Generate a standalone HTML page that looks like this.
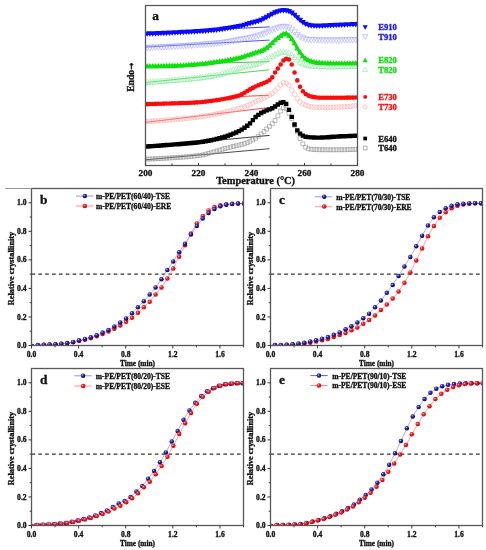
<!DOCTYPE html>
<html><head><meta charset="utf-8"><style>
html,body{margin:0;padding:0;background:#fff;width:486px;height:550px;overflow:hidden}
svg text{font-family:'Liberation Serif', 'Times New Roman', serif;font-weight:bold;stroke-width:0.32px;paint-order:stroke}
</style></head><body>
<svg width="486" height="550" viewBox="0 0 486 550" fill="#111" style="position:absolute;left:0;top:0">
<defs>
<clipPath id="clipA"><rect x="145.5" y="5.5" width="212" height="160"/></clipPath>
<radialGradient id="gB" cx="0.38" cy="0.35" r="0.65"><stop offset="0" stop-color="#c8c8ff"/><stop offset="0.35" stop-color="#3030b0"/><stop offset="1" stop-color="#00006a"/></radialGradient>
<radialGradient id="gR" cx="0.38" cy="0.35" r="0.65"><stop offset="0" stop-color="#ffd0d0"/><stop offset="0.35" stop-color="#ff2020"/><stop offset="1" stop-color="#d80000"/></radialGradient>
<clipPath id="clip0"><rect x="31.5" y="188.5" width="212" height="157"/></clipPath>
<clipPath id="clip1"><rect x="270.5" y="188.5" width="212" height="157"/></clipPath>
<clipPath id="clip2"><rect x="31.5" y="368.5" width="212" height="157"/></clipPath>
<clipPath id="clip3"><rect x="270.5" y="368.5" width="212" height="157"/></clipPath>
</defs>
<rect width="486" height="550" fill="#ffffff"/>
<g clip-path="url(#clipA)">
<line x1="190" y1="30.6" x2="269.5" y2="26.9" stroke="#2a2aff" stroke-width="0.9"/>
<line x1="145.5" y1="47.1" x2="269.5" y2="40.1" stroke="#3a3aff" stroke-width="0.9"/>
<line x1="205" y1="63.5" x2="269.3" y2="61.6" stroke="#22cc22" stroke-width="0.9"/>
<line x1="145.5" y1="82.5" x2="269.3" y2="69.8" stroke="#33dd33" stroke-width="0.9"/>
<line x1="232" y1="96.8" x2="269.3" y2="95.3" stroke="#ff2a2a" stroke-width="0.9"/>
<line x1="145.5" y1="122.4" x2="269.3" y2="107.5" stroke="#ff3a3a" stroke-width="0.9"/>
<line x1="215" y1="140.5" x2="269.5" y2="135.4" stroke="#222222" stroke-width="0.9"/>
<line x1="145.5" y1="159.8" x2="269.5" y2="148.7" stroke="#333333" stroke-width="0.9"/>
<path d="M142.46 157.19h3.87v3.87h-3.87ZM145.24 157.12h3.87v3.87h-3.87ZM148.02 157.03h3.87v3.87h-3.87ZM150.8 156.93h3.87v3.87h-3.87ZM153.58 156.81h3.87v3.87h-3.87ZM156.36 156.68h3.87v3.87h-3.87ZM159.14 156.54h3.87v3.87h-3.87ZM161.92 156.39h3.87v3.87h-3.87ZM164.7 156.23h3.87v3.87h-3.87ZM167.48 156.06h3.87v3.87h-3.87ZM170.26 155.89h3.87v3.87h-3.87ZM173.04 155.71h3.87v3.87h-3.87ZM175.82 155.52h3.87v3.87h-3.87ZM178.6 155.33h3.87v3.87h-3.87ZM181.38 155.13h3.87v3.87h-3.87ZM184.16 154.92h3.87v3.87h-3.87ZM186.94 154.7h3.87v3.87h-3.87ZM189.72 154.44h3.87v3.87h-3.87ZM192.5 154.16h3.87v3.87h-3.87ZM195.28 153.84h3.87v3.87h-3.87ZM198.06 153.46h3.87v3.87h-3.87ZM200.84 152.95h3.87v3.87h-3.87ZM203.62 152.27h3.87v3.87h-3.87ZM206.4 151.51h3.87v3.87h-3.87ZM209.18 150.76h3.87v3.87h-3.87ZM211.96 149.94h3.87v3.87h-3.87ZM214.74 149.07h3.87v3.87h-3.87ZM217.52 148.2h3.87v3.87h-3.87ZM220.3 147.4h3.87v3.87h-3.87ZM223.08 146.65h3.87v3.87h-3.87ZM225.86 145.92h3.87v3.87h-3.87ZM228.64 145.22h3.87v3.87h-3.87ZM231.42 144.52h3.87v3.87h-3.87ZM234.2 143.83h3.87v3.87h-3.87ZM236.98 143.19h3.87v3.87h-3.87ZM239.76 142.53h3.87v3.87h-3.87ZM242.54 141.69h3.87v3.87h-3.87ZM245.32 140.65h3.87v3.87h-3.87ZM248.1 139.45h3.87v3.87h-3.87ZM250.88 138.04h3.87v3.87h-3.87ZM253.66 136.38h3.87v3.87h-3.87ZM256.44 134.35h3.87v3.87h-3.87ZM259.22 132.1h3.87v3.87h-3.87ZM262 129.66h3.87v3.87h-3.87ZM264.78 127.08h3.87v3.87h-3.87ZM267.56 124.46h3.87v3.87h-3.87ZM270.34 121.79h3.87v3.87h-3.87ZM273.12 118.58h3.87v3.87h-3.87ZM275.9 113.89h3.87v3.87h-3.87ZM278.68 109.16h3.87v3.87h-3.87ZM281.46 105.88h3.87v3.87h-3.87ZM284.24 106.84h3.87v3.87h-3.87ZM287.02 111.39h3.87v3.87h-3.87ZM289.8 116.81h3.87v3.87h-3.87ZM292.58 123.44h3.87v3.87h-3.87ZM295.36 129.9h3.87v3.87h-3.87ZM298.14 136.61h3.87v3.87h-3.87ZM300.92 141.92h3.87v3.87h-3.87ZM303.7 145.27h3.87v3.87h-3.87ZM306.48 146.8h3.87v3.87h-3.87ZM309.26 147.38h3.87v3.87h-3.87ZM312.04 147.53h3.87v3.87h-3.87ZM314.82 147.65h3.87v3.87h-3.87ZM317.6 147.74h3.87v3.87h-3.87ZM320.38 147.8h3.87v3.87h-3.87ZM323.16 147.84h3.87v3.87h-3.87ZM325.94 147.86h3.87v3.87h-3.87ZM328.72 147.86h3.87v3.87h-3.87ZM331.5 147.86h3.87v3.87h-3.87ZM334.28 147.85h3.87v3.87h-3.87ZM337.06 147.83h3.87v3.87h-3.87ZM339.84 147.8h3.87v3.87h-3.87ZM342.62 147.75h3.87v3.87h-3.87ZM345.4 147.7h3.87v3.87h-3.87ZM348.18 147.63h3.87v3.87h-3.87ZM350.96 147.55h3.87v3.87h-3.87ZM353.74 147.44h3.87v3.87h-3.87ZM356.52 147.32h3.87v3.87h-3.87Z" fill="none" stroke="#909090" stroke-width="0.6"/>
<path d="M142.1 121.66a2.3 2.3 0 1 0 4.6 0a2.3 2.3 0 1 0 -4.6 0ZM144.88 121.51a2.3 2.3 0 1 0 4.6 0a2.3 2.3 0 1 0 -4.6 0ZM147.66 121.35a2.3 2.3 0 1 0 4.6 0a2.3 2.3 0 1 0 -4.6 0ZM150.44 121.18a2.3 2.3 0 1 0 4.6 0a2.3 2.3 0 1 0 -4.6 0ZM153.22 121a2.3 2.3 0 1 0 4.6 0a2.3 2.3 0 1 0 -4.6 0ZM156 120.8a2.3 2.3 0 1 0 4.6 0a2.3 2.3 0 1 0 -4.6 0ZM158.78 120.61a2.3 2.3 0 1 0 4.6 0a2.3 2.3 0 1 0 -4.6 0ZM161.56 120.4a2.3 2.3 0 1 0 4.6 0a2.3 2.3 0 1 0 -4.6 0ZM164.34 120.18a2.3 2.3 0 1 0 4.6 0a2.3 2.3 0 1 0 -4.6 0ZM167.12 119.96a2.3 2.3 0 1 0 4.6 0a2.3 2.3 0 1 0 -4.6 0ZM169.9 119.74a2.3 2.3 0 1 0 4.6 0a2.3 2.3 0 1 0 -4.6 0ZM172.68 119.5a2.3 2.3 0 1 0 4.6 0a2.3 2.3 0 1 0 -4.6 0ZM175.46 119.26a2.3 2.3 0 1 0 4.6 0a2.3 2.3 0 1 0 -4.6 0ZM178.24 119.02a2.3 2.3 0 1 0 4.6 0a2.3 2.3 0 1 0 -4.6 0ZM181.02 118.76a2.3 2.3 0 1 0 4.6 0a2.3 2.3 0 1 0 -4.6 0ZM183.8 118.49a2.3 2.3 0 1 0 4.6 0a2.3 2.3 0 1 0 -4.6 0ZM186.58 118.21a2.3 2.3 0 1 0 4.6 0a2.3 2.3 0 1 0 -4.6 0ZM189.36 117.92a2.3 2.3 0 1 0 4.6 0a2.3 2.3 0 1 0 -4.6 0ZM192.14 117.6a2.3 2.3 0 1 0 4.6 0a2.3 2.3 0 1 0 -4.6 0ZM194.92 117.26a2.3 2.3 0 1 0 4.6 0a2.3 2.3 0 1 0 -4.6 0ZM197.7 116.9a2.3 2.3 0 1 0 4.6 0a2.3 2.3 0 1 0 -4.6 0ZM200.48 116.5a2.3 2.3 0 1 0 4.6 0a2.3 2.3 0 1 0 -4.6 0ZM203.26 116.05a2.3 2.3 0 1 0 4.6 0a2.3 2.3 0 1 0 -4.6 0ZM206.04 115.55a2.3 2.3 0 1 0 4.6 0a2.3 2.3 0 1 0 -4.6 0ZM208.82 115.02a2.3 2.3 0 1 0 4.6 0a2.3 2.3 0 1 0 -4.6 0ZM211.6 114.47a2.3 2.3 0 1 0 4.6 0a2.3 2.3 0 1 0 -4.6 0ZM214.38 113.9a2.3 2.3 0 1 0 4.6 0a2.3 2.3 0 1 0 -4.6 0ZM217.16 113.31a2.3 2.3 0 1 0 4.6 0a2.3 2.3 0 1 0 -4.6 0ZM219.94 112.72a2.3 2.3 0 1 0 4.6 0a2.3 2.3 0 1 0 -4.6 0ZM222.72 112.09a2.3 2.3 0 1 0 4.6 0a2.3 2.3 0 1 0 -4.6 0ZM225.5 111.44a2.3 2.3 0 1 0 4.6 0a2.3 2.3 0 1 0 -4.6 0ZM228.28 110.75a2.3 2.3 0 1 0 4.6 0a2.3 2.3 0 1 0 -4.6 0ZM231.06 110.04a2.3 2.3 0 1 0 4.6 0a2.3 2.3 0 1 0 -4.6 0ZM233.84 109.29a2.3 2.3 0 1 0 4.6 0a2.3 2.3 0 1 0 -4.6 0ZM236.62 108.5a2.3 2.3 0 1 0 4.6 0a2.3 2.3 0 1 0 -4.6 0ZM239.4 107.64a2.3 2.3 0 1 0 4.6 0a2.3 2.3 0 1 0 -4.6 0ZM242.18 106.67a2.3 2.3 0 1 0 4.6 0a2.3 2.3 0 1 0 -4.6 0ZM244.96 105.57a2.3 2.3 0 1 0 4.6 0a2.3 2.3 0 1 0 -4.6 0ZM247.74 104.38a2.3 2.3 0 1 0 4.6 0a2.3 2.3 0 1 0 -4.6 0ZM250.52 103.07a2.3 2.3 0 1 0 4.6 0a2.3 2.3 0 1 0 -4.6 0ZM253.3 101.69a2.3 2.3 0 1 0 4.6 0a2.3 2.3 0 1 0 -4.6 0ZM256.08 100.35a2.3 2.3 0 1 0 4.6 0a2.3 2.3 0 1 0 -4.6 0ZM258.86 99.11a2.3 2.3 0 1 0 4.6 0a2.3 2.3 0 1 0 -4.6 0ZM261.64 98a2.3 2.3 0 1 0 4.6 0a2.3 2.3 0 1 0 -4.6 0ZM264.42 96.72a2.3 2.3 0 1 0 4.6 0a2.3 2.3 0 1 0 -4.6 0ZM267.2 95.23a2.3 2.3 0 1 0 4.6 0a2.3 2.3 0 1 0 -4.6 0ZM269.98 93.39a2.3 2.3 0 1 0 4.6 0a2.3 2.3 0 1 0 -4.6 0ZM272.76 91.02a2.3 2.3 0 1 0 4.6 0a2.3 2.3 0 1 0 -4.6 0ZM275.54 88.02a2.3 2.3 0 1 0 4.6 0a2.3 2.3 0 1 0 -4.6 0ZM278.32 84.93a2.3 2.3 0 1 0 4.6 0a2.3 2.3 0 1 0 -4.6 0ZM281.1 82.82a2.3 2.3 0 1 0 4.6 0a2.3 2.3 0 1 0 -4.6 0ZM283.88 83.18a2.3 2.3 0 1 0 4.6 0a2.3 2.3 0 1 0 -4.6 0ZM286.66 85.26a2.3 2.3 0 1 0 4.6 0a2.3 2.3 0 1 0 -4.6 0ZM289.44 90.12a2.3 2.3 0 1 0 4.6 0a2.3 2.3 0 1 0 -4.6 0ZM292.22 94.37a2.3 2.3 0 1 0 4.6 0a2.3 2.3 0 1 0 -4.6 0ZM295 98.65a2.3 2.3 0 1 0 4.6 0a2.3 2.3 0 1 0 -4.6 0ZM297.78 101.93a2.3 2.3 0 1 0 4.6 0a2.3 2.3 0 1 0 -4.6 0ZM300.56 103.92a2.3 2.3 0 1 0 4.6 0a2.3 2.3 0 1 0 -4.6 0ZM303.34 105.14a2.3 2.3 0 1 0 4.6 0a2.3 2.3 0 1 0 -4.6 0ZM306.12 106.07a2.3 2.3 0 1 0 4.6 0a2.3 2.3 0 1 0 -4.6 0ZM308.9 106.73a2.3 2.3 0 1 0 4.6 0a2.3 2.3 0 1 0 -4.6 0ZM311.68 107.05a2.3 2.3 0 1 0 4.6 0a2.3 2.3 0 1 0 -4.6 0ZM314.46 107.29a2.3 2.3 0 1 0 4.6 0a2.3 2.3 0 1 0 -4.6 0ZM317.24 107.4a2.3 2.3 0 1 0 4.6 0a2.3 2.3 0 1 0 -4.6 0ZM320.02 107.39a2.3 2.3 0 1 0 4.6 0a2.3 2.3 0 1 0 -4.6 0ZM322.8 107.37a2.3 2.3 0 1 0 4.6 0a2.3 2.3 0 1 0 -4.6 0ZM325.58 107.32a2.3 2.3 0 1 0 4.6 0a2.3 2.3 0 1 0 -4.6 0ZM328.36 107.27a2.3 2.3 0 1 0 4.6 0a2.3 2.3 0 1 0 -4.6 0ZM331.14 107.2a2.3 2.3 0 1 0 4.6 0a2.3 2.3 0 1 0 -4.6 0ZM333.92 107.12a2.3 2.3 0 1 0 4.6 0a2.3 2.3 0 1 0 -4.6 0ZM336.7 107.03a2.3 2.3 0 1 0 4.6 0a2.3 2.3 0 1 0 -4.6 0ZM339.48 106.93a2.3 2.3 0 1 0 4.6 0a2.3 2.3 0 1 0 -4.6 0ZM342.26 106.77a2.3 2.3 0 1 0 4.6 0a2.3 2.3 0 1 0 -4.6 0ZM345.04 106.56a2.3 2.3 0 1 0 4.6 0a2.3 2.3 0 1 0 -4.6 0ZM347.82 106.3a2.3 2.3 0 1 0 4.6 0a2.3 2.3 0 1 0 -4.6 0ZM350.6 106.02a2.3 2.3 0 1 0 4.6 0a2.3 2.3 0 1 0 -4.6 0ZM353.38 105.71a2.3 2.3 0 1 0 4.6 0a2.3 2.3 0 1 0 -4.6 0ZM356.16 105.39a2.3 2.3 0 1 0 4.6 0a2.3 2.3 0 1 0 -4.6 0Z" fill="none" stroke="#ffaaaa" stroke-width="0.6"/>
<path d="M141.4 84.67L147.4 84.67L144.4 79.27ZM144.18 84.49L150.18 84.49L147.18 79.09ZM146.96 84.31L152.96 84.31L149.96 78.91ZM149.74 84.12L155.74 84.12L152.74 78.72ZM152.52 83.93L158.52 83.93L155.52 78.53ZM155.3 83.72L161.3 83.72L158.3 78.32ZM158.08 83.52L164.08 83.52L161.08 78.12ZM160.86 83.3L166.86 83.3L163.86 77.9ZM163.64 83.08L169.64 83.08L166.64 77.68ZM166.42 82.86L172.42 82.86L169.42 77.46ZM169.2 82.63L175.2 82.63L172.2 77.23ZM171.98 82.4L177.98 82.4L174.98 77ZM174.76 82.17L180.76 82.17L177.76 76.77ZM177.54 81.93L183.54 81.93L180.54 76.53ZM180.32 81.7L186.32 81.7L183.32 76.3ZM183.1 81.45L189.1 81.45L186.1 76.05ZM185.88 81.2L191.88 81.2L188.88 75.8ZM188.66 80.93L194.66 80.93L191.66 75.53ZM191.44 80.64L197.44 80.64L194.44 75.24ZM194.22 80.33L200.22 80.33L197.22 74.93ZM197 80L203 80L200 74.6ZM199.78 79.64L205.78 79.64L202.78 74.24ZM202.56 79.25L208.56 79.25L205.56 73.85ZM205.34 78.83L211.34 78.83L208.34 73.43ZM208.12 78.37L214.12 78.37L211.12 72.97ZM210.9 77.86L216.9 77.86L213.9 72.46ZM213.68 77.32L219.68 77.32L216.68 71.92ZM216.46 76.72L222.46 76.72L219.46 71.32ZM219.24 76.02L225.24 76.02L222.24 70.62ZM222.02 75.16L228.02 75.16L225.02 69.76ZM224.8 74.19L230.8 74.19L227.8 68.79ZM227.58 73.19L233.58 73.19L230.58 67.79ZM230.36 72.22L236.36 72.22L233.36 66.82ZM233.14 71.35L239.14 71.35L236.14 65.95ZM235.92 70.5L241.92 70.5L238.92 65.1ZM238.7 69.68L244.7 69.68L241.7 64.28ZM241.48 68.93L247.48 68.93L244.48 63.53ZM244.26 68.31L250.26 68.31L247.26 62.91ZM247.04 67.8L253.04 67.8L250.04 62.4ZM249.82 67.25L255.82 67.25L252.82 61.85ZM252.6 66.52L258.6 66.52L255.6 61.12ZM255.38 65.41L261.38 65.41L258.38 60.01ZM258.16 64.1L264.16 64.1L261.16 58.7ZM260.94 62.76L266.94 62.76L263.94 57.36ZM263.72 61.31L269.72 61.31L266.72 55.91ZM266.5 59.83L272.5 59.83L269.5 54.43ZM269.28 58.4L275.28 58.4L272.28 53ZM272.06 56.89L278.06 56.89L275.06 51.49ZM274.84 55.5L280.84 55.5L277.84 50.1ZM277.62 54.51L283.62 54.51L280.62 49.11ZM280.4 53.83L286.4 53.83L283.4 48.43ZM283.18 54.26L289.18 54.26L286.18 48.86ZM285.96 55.49L291.96 55.49L288.96 50.09ZM288.74 57.54L294.74 57.54L291.74 52.14ZM291.52 59.75L297.52 59.75L294.52 54.35ZM294.3 62.04L300.3 62.04L297.3 56.64ZM297.08 64.3L303.08 64.3L300.08 58.9ZM299.86 65.96L305.86 65.96L302.86 60.56ZM302.64 67L308.64 67L305.64 61.6ZM305.42 67.66L311.42 67.66L308.42 62.26ZM308.2 68.03L314.2 68.03L311.2 62.63ZM310.98 68.28L316.98 68.28L313.98 62.88ZM313.76 68.46L319.76 68.46L316.76 63.06ZM316.54 68.58L322.54 68.58L319.54 63.18ZM319.32 68.67L325.32 68.67L322.32 63.27ZM322.1 68.74L328.1 68.74L325.1 63.34ZM324.88 68.79L330.88 68.79L327.88 63.39ZM327.66 68.8L333.66 68.8L330.66 63.4ZM330.44 68.79L336.44 68.79L333.44 63.39ZM333.22 68.78L339.22 68.78L336.22 63.38ZM336 68.75L342 68.75L339 63.35ZM338.78 68.72L344.78 68.72L341.78 63.32ZM341.56 68.66L347.56 68.66L344.56 63.26ZM344.34 68.6L350.34 68.6L347.34 63.2ZM347.12 68.51L353.12 68.51L350.12 63.11ZM349.9 68.41L355.9 68.41L352.9 63.01ZM352.68 68.29L358.68 68.29L355.68 62.89ZM355.46 68.15L361.46 68.15L358.46 62.75Z" fill="none" stroke="#90eaa8" stroke-width="0.6"/>
<path d="M141.4 45.43L147.4 45.43L144.4 50.83ZM144.18 45.35L150.18 45.35L147.18 50.75ZM146.96 45.25L152.96 45.25L149.96 50.65ZM149.74 45.15L155.74 45.15L152.74 50.55ZM152.52 45.04L158.52 45.04L155.52 50.44ZM155.3 44.92L161.3 44.92L158.3 50.32ZM158.08 44.8L164.08 44.8L161.08 50.2ZM160.86 44.67L166.86 44.67L163.86 50.07ZM163.64 44.53L169.64 44.53L166.64 49.93ZM166.42 44.39L172.42 44.39L169.42 49.79ZM169.2 44.25L175.2 44.25L172.2 49.65ZM171.98 44.1L177.98 44.1L174.98 49.5ZM174.76 43.95L180.76 43.95L177.76 49.35ZM177.54 43.78L183.54 43.78L180.54 49.18ZM180.32 43.61L186.32 43.61L183.32 49.01ZM183.1 43.42L189.1 43.42L186.1 48.82ZM185.88 43.23L191.88 43.23L188.88 48.63ZM188.66 43.03L194.66 43.03L191.66 48.43ZM191.44 42.83L197.44 42.83L194.44 48.23ZM194.22 42.62L200.22 42.62L197.22 48.02ZM197 42.4L203 42.4L200 47.8ZM199.78 42.18L205.78 42.18L202.78 47.58ZM202.56 41.95L208.56 41.95L205.56 47.35ZM205.34 41.72L211.34 41.72L208.34 47.12ZM208.12 41.48L214.12 41.48L211.12 46.88ZM210.9 41.23L216.9 41.23L213.9 46.63ZM213.68 40.96L219.68 40.96L216.68 46.36ZM216.46 40.66L222.46 40.66L219.46 46.06ZM219.24 40.33L225.24 40.33L222.24 45.73ZM222.02 39.96L228.02 39.96L225.02 45.36ZM224.8 39.55L230.8 39.55L227.8 44.95ZM227.58 39.1L233.58 39.1L230.58 44.5ZM230.36 38.57L236.36 38.57L233.36 43.97ZM233.14 37.99L239.14 37.99L236.14 43.39ZM235.92 37.41L241.92 37.41L238.92 42.81ZM238.7 36.89L244.7 36.89L241.7 42.29ZM241.48 36.41L247.48 36.41L244.48 41.81ZM244.26 35.93L250.26 35.93L247.26 41.33ZM247.04 35.42L253.04 35.42L250.04 40.82ZM249.82 34.81L255.82 34.81L252.82 40.21ZM252.6 34.09L258.6 34.09L255.6 39.49ZM255.38 33.28L261.38 33.28L258.38 38.68ZM258.16 32.38L264.16 32.38L261.16 37.78ZM260.94 31.38L266.94 31.38L263.94 36.78ZM263.72 30.22L269.72 30.22L266.72 35.62ZM266.5 29.01L272.5 29.01L269.5 34.41ZM269.28 27.78L275.28 27.78L272.28 33.18ZM272.06 26.51L278.06 26.51L275.06 31.91ZM274.84 25.45L280.84 25.45L277.84 30.85ZM277.62 24.58L283.62 24.58L280.62 29.98ZM280.4 24.2L286.4 24.2L283.4 29.6ZM283.18 24.43L289.18 24.43L286.18 29.83ZM285.96 25.67L291.96 25.67L288.96 31.07ZM288.74 27.47L294.74 27.47L291.74 32.87ZM291.52 29.76L297.52 29.76L294.52 35.16ZM294.3 32.34L300.3 32.34L297.3 37.74ZM297.08 34.25L303.08 34.25L300.08 39.65ZM299.86 35.79L305.86 35.79L302.86 41.19ZM302.64 36.75L308.64 36.75L305.64 42.15ZM305.42 37.24L311.42 37.24L308.42 42.64ZM308.2 37.48L314.2 37.48L311.2 42.88ZM310.98 37.62L316.98 37.62L313.98 43.02ZM313.76 37.73L319.76 37.73L316.76 43.13ZM316.54 37.79L322.54 37.79L319.54 43.19ZM319.32 37.84L325.32 37.84L322.32 43.24ZM322.1 37.87L328.1 37.87L325.1 43.27ZM324.88 37.89L330.88 37.89L327.88 43.29ZM327.66 37.9L333.66 37.9L330.66 43.3ZM330.44 37.9L336.44 37.9L333.44 43.3ZM333.22 37.88L339.22 37.88L336.22 43.28ZM336 37.86L342 37.86L339 43.26ZM338.78 37.84L344.78 37.84L341.78 43.24ZM341.56 37.8L347.56 37.8L344.56 43.2ZM344.34 37.75L350.34 37.75L347.34 43.15ZM347.12 37.7L353.12 37.7L350.12 43.1ZM349.9 37.63L355.9 37.63L352.9 43.03ZM352.68 37.56L358.68 37.56L355.68 42.96ZM355.46 37.47L361.46 37.47L358.46 42.87Z" fill="none" stroke="#ababff" stroke-width="0.6"/>
<path d="M142.2 144.47h4.4v4.4h-4.4ZM144.98 144.29h4.4v4.4h-4.4ZM147.76 144.1h4.4v4.4h-4.4ZM150.54 143.91h4.4v4.4h-4.4ZM153.32 143.71h4.4v4.4h-4.4ZM156.1 143.5h4.4v4.4h-4.4ZM158.88 143.3h4.4v4.4h-4.4ZM161.66 143.08h4.4v4.4h-4.4ZM164.44 142.87h4.4v4.4h-4.4ZM167.22 142.65h4.4v4.4h-4.4ZM170 142.42h4.4v4.4h-4.4ZM172.78 142.21h4.4v4.4h-4.4ZM175.56 141.99h4.4v4.4h-4.4ZM178.34 141.78h4.4v4.4h-4.4ZM181.12 141.55h4.4v4.4h-4.4ZM183.9 141.32h4.4v4.4h-4.4ZM186.68 141.08h4.4v4.4h-4.4ZM189.46 140.82h4.4v4.4h-4.4ZM192.24 140.54h4.4v4.4h-4.4ZM195.02 140.23h4.4v4.4h-4.4ZM197.8 139.9h4.4v4.4h-4.4ZM200.58 139.52h4.4v4.4h-4.4ZM203.36 139.07h4.4v4.4h-4.4ZM206.14 138.57h4.4v4.4h-4.4ZM208.92 138.02h4.4v4.4h-4.4ZM211.7 137.44h4.4v4.4h-4.4ZM214.48 136.82h4.4v4.4h-4.4ZM217.26 136.11h4.4v4.4h-4.4ZM220.04 135.33h4.4v4.4h-4.4ZM222.82 134.49h4.4v4.4h-4.4ZM225.6 133.57h4.4v4.4h-4.4ZM228.38 132.55h4.4v4.4h-4.4ZM231.16 131.45h4.4v4.4h-4.4ZM233.94 130.28h4.4v4.4h-4.4ZM236.72 128.96h4.4v4.4h-4.4ZM239.5 127.41h4.4v4.4h-4.4ZM242.28 125.57h4.4v4.4h-4.4ZM245.06 123.53h4.4v4.4h-4.4ZM247.84 121.16h4.4v4.4h-4.4ZM250.62 117.89h4.4v4.4h-4.4ZM253.4 114.85h4.4v4.4h-4.4ZM256.18 112.63h4.4v4.4h-4.4ZM258.96 110.85h4.4v4.4h-4.4ZM261.74 109.39h4.4v4.4h-4.4ZM264.52 108.21h4.4v4.4h-4.4ZM267.3 107.13h4.4v4.4h-4.4ZM270.08 106.05h4.4v4.4h-4.4ZM272.86 104.34h4.4v4.4h-4.4ZM275.64 102.28h4.4v4.4h-4.4ZM278.42 100.52h4.4v4.4h-4.4ZM281.2 100.11h4.4v4.4h-4.4ZM283.98 101.7h4.4v4.4h-4.4ZM286.76 107.7h4.4v4.4h-4.4ZM289.54 114.7h4.4v4.4h-4.4ZM292.32 122.27h4.4v4.4h-4.4ZM295.1 128.19h4.4v4.4h-4.4ZM297.88 131.4h4.4v4.4h-4.4ZM300.66 133.45h4.4v4.4h-4.4ZM303.44 134.52h4.4v4.4h-4.4ZM306.22 134.9h4.4v4.4h-4.4ZM309 135.14h4.4v4.4h-4.4ZM311.78 135.31h4.4v4.4h-4.4ZM314.56 135.39h4.4v4.4h-4.4ZM317.34 135.39h4.4v4.4h-4.4ZM320.12 135.31h4.4v4.4h-4.4ZM322.9 135.18h4.4v4.4h-4.4ZM325.68 135h4.4v4.4h-4.4ZM328.46 134.81h4.4v4.4h-4.4ZM331.24 134.6h4.4v4.4h-4.4ZM334.02 134.41h4.4v4.4h-4.4ZM336.8 134.25h4.4v4.4h-4.4ZM339.58 134.12h4.4v4.4h-4.4ZM342.36 134h4.4v4.4h-4.4ZM345.14 133.88h4.4v4.4h-4.4ZM347.92 133.77h4.4v4.4h-4.4ZM350.7 133.66h4.4v4.4h-4.4ZM353.48 133.56h4.4v4.4h-4.4ZM356.26 133.47h4.4v4.4h-4.4Z" fill="#000000"/>
<path d="M142.1 104.23a2.3 2.3 0 1 0 4.6 0a2.3 2.3 0 1 0 -4.6 0ZM144.88 104.15a2.3 2.3 0 1 0 4.6 0a2.3 2.3 0 1 0 -4.6 0ZM147.66 104.07a2.3 2.3 0 1 0 4.6 0a2.3 2.3 0 1 0 -4.6 0ZM150.44 103.99a2.3 2.3 0 1 0 4.6 0a2.3 2.3 0 1 0 -4.6 0ZM153.22 103.91a2.3 2.3 0 1 0 4.6 0a2.3 2.3 0 1 0 -4.6 0ZM156 103.82a2.3 2.3 0 1 0 4.6 0a2.3 2.3 0 1 0 -4.6 0ZM158.78 103.74a2.3 2.3 0 1 0 4.6 0a2.3 2.3 0 1 0 -4.6 0ZM161.56 103.65a2.3 2.3 0 1 0 4.6 0a2.3 2.3 0 1 0 -4.6 0ZM164.34 103.56a2.3 2.3 0 1 0 4.6 0a2.3 2.3 0 1 0 -4.6 0ZM167.12 103.48a2.3 2.3 0 1 0 4.6 0a2.3 2.3 0 1 0 -4.6 0ZM169.9 103.39a2.3 2.3 0 1 0 4.6 0a2.3 2.3 0 1 0 -4.6 0ZM172.68 103.3a2.3 2.3 0 1 0 4.6 0a2.3 2.3 0 1 0 -4.6 0ZM175.46 103.21a2.3 2.3 0 1 0 4.6 0a2.3 2.3 0 1 0 -4.6 0ZM178.24 103.13a2.3 2.3 0 1 0 4.6 0a2.3 2.3 0 1 0 -4.6 0ZM181.02 103.05a2.3 2.3 0 1 0 4.6 0a2.3 2.3 0 1 0 -4.6 0ZM183.8 102.95a2.3 2.3 0 1 0 4.6 0a2.3 2.3 0 1 0 -4.6 0ZM186.58 102.85a2.3 2.3 0 1 0 4.6 0a2.3 2.3 0 1 0 -4.6 0ZM189.36 102.72a2.3 2.3 0 1 0 4.6 0a2.3 2.3 0 1 0 -4.6 0ZM192.14 102.58a2.3 2.3 0 1 0 4.6 0a2.3 2.3 0 1 0 -4.6 0ZM194.92 102.4a2.3 2.3 0 1 0 4.6 0a2.3 2.3 0 1 0 -4.6 0ZM197.7 102.2a2.3 2.3 0 1 0 4.6 0a2.3 2.3 0 1 0 -4.6 0ZM200.48 101.95a2.3 2.3 0 1 0 4.6 0a2.3 2.3 0 1 0 -4.6 0ZM203.26 101.65a2.3 2.3 0 1 0 4.6 0a2.3 2.3 0 1 0 -4.6 0ZM206.04 101.31a2.3 2.3 0 1 0 4.6 0a2.3 2.3 0 1 0 -4.6 0ZM208.82 100.94a2.3 2.3 0 1 0 4.6 0a2.3 2.3 0 1 0 -4.6 0ZM211.6 100.56a2.3 2.3 0 1 0 4.6 0a2.3 2.3 0 1 0 -4.6 0ZM214.38 100.16a2.3 2.3 0 1 0 4.6 0a2.3 2.3 0 1 0 -4.6 0ZM217.16 99.73a2.3 2.3 0 1 0 4.6 0a2.3 2.3 0 1 0 -4.6 0ZM219.94 99.27a2.3 2.3 0 1 0 4.6 0a2.3 2.3 0 1 0 -4.6 0ZM222.72 98.78a2.3 2.3 0 1 0 4.6 0a2.3 2.3 0 1 0 -4.6 0ZM225.5 98.25a2.3 2.3 0 1 0 4.6 0a2.3 2.3 0 1 0 -4.6 0ZM228.28 97.68a2.3 2.3 0 1 0 4.6 0a2.3 2.3 0 1 0 -4.6 0ZM231.06 97.08a2.3 2.3 0 1 0 4.6 0a2.3 2.3 0 1 0 -4.6 0ZM233.84 96.41a2.3 2.3 0 1 0 4.6 0a2.3 2.3 0 1 0 -4.6 0ZM236.62 95.58a2.3 2.3 0 1 0 4.6 0a2.3 2.3 0 1 0 -4.6 0ZM239.4 94.4a2.3 2.3 0 1 0 4.6 0a2.3 2.3 0 1 0 -4.6 0ZM242.18 92.71a2.3 2.3 0 1 0 4.6 0a2.3 2.3 0 1 0 -4.6 0ZM244.96 91.03a2.3 2.3 0 1 0 4.6 0a2.3 2.3 0 1 0 -4.6 0ZM247.74 89.38a2.3 2.3 0 1 0 4.6 0a2.3 2.3 0 1 0 -4.6 0ZM250.52 87.88a2.3 2.3 0 1 0 4.6 0a2.3 2.3 0 1 0 -4.6 0ZM253.3 86.52a2.3 2.3 0 1 0 4.6 0a2.3 2.3 0 1 0 -4.6 0ZM256.08 85.29a2.3 2.3 0 1 0 4.6 0a2.3 2.3 0 1 0 -4.6 0ZM258.86 84.13a2.3 2.3 0 1 0 4.6 0a2.3 2.3 0 1 0 -4.6 0ZM261.64 83.04a2.3 2.3 0 1 0 4.6 0a2.3 2.3 0 1 0 -4.6 0ZM264.42 81.79a2.3 2.3 0 1 0 4.6 0a2.3 2.3 0 1 0 -4.6 0ZM267.2 80.2a2.3 2.3 0 1 0 4.6 0a2.3 2.3 0 1 0 -4.6 0ZM269.98 77.36a2.3 2.3 0 1 0 4.6 0a2.3 2.3 0 1 0 -4.6 0ZM272.76 72.51a2.3 2.3 0 1 0 4.6 0a2.3 2.3 0 1 0 -4.6 0ZM275.54 68.51a2.3 2.3 0 1 0 4.6 0a2.3 2.3 0 1 0 -4.6 0ZM278.32 64.47a2.3 2.3 0 1 0 4.6 0a2.3 2.3 0 1 0 -4.6 0ZM281.1 60.57a2.3 2.3 0 1 0 4.6 0a2.3 2.3 0 1 0 -4.6 0ZM283.88 58.72a2.3 2.3 0 1 0 4.6 0a2.3 2.3 0 1 0 -4.6 0ZM286.66 59.52a2.3 2.3 0 1 0 4.6 0a2.3 2.3 0 1 0 -4.6 0ZM289.44 64.52a2.3 2.3 0 1 0 4.6 0a2.3 2.3 0 1 0 -4.6 0ZM292.22 72.57a2.3 2.3 0 1 0 4.6 0a2.3 2.3 0 1 0 -4.6 0ZM295 80.41a2.3 2.3 0 1 0 4.6 0a2.3 2.3 0 1 0 -4.6 0ZM297.78 86.73a2.3 2.3 0 1 0 4.6 0a2.3 2.3 0 1 0 -4.6 0ZM300.56 91.31a2.3 2.3 0 1 0 4.6 0a2.3 2.3 0 1 0 -4.6 0ZM303.34 94.05a2.3 2.3 0 1 0 4.6 0a2.3 2.3 0 1 0 -4.6 0ZM306.12 95.61a2.3 2.3 0 1 0 4.6 0a2.3 2.3 0 1 0 -4.6 0ZM308.9 96.55a2.3 2.3 0 1 0 4.6 0a2.3 2.3 0 1 0 -4.6 0ZM311.68 97.16a2.3 2.3 0 1 0 4.6 0a2.3 2.3 0 1 0 -4.6 0ZM314.46 97.5a2.3 2.3 0 1 0 4.6 0a2.3 2.3 0 1 0 -4.6 0ZM317.24 97.69a2.3 2.3 0 1 0 4.6 0a2.3 2.3 0 1 0 -4.6 0ZM320.02 97.7a2.3 2.3 0 1 0 4.6 0a2.3 2.3 0 1 0 -4.6 0ZM322.8 97.7a2.3 2.3 0 1 0 4.6 0a2.3 2.3 0 1 0 -4.6 0ZM325.58 97.7a2.3 2.3 0 1 0 4.6 0a2.3 2.3 0 1 0 -4.6 0ZM328.36 97.7a2.3 2.3 0 1 0 4.6 0a2.3 2.3 0 1 0 -4.6 0ZM331.14 97.7a2.3 2.3 0 1 0 4.6 0a2.3 2.3 0 1 0 -4.6 0ZM333.92 97.7a2.3 2.3 0 1 0 4.6 0a2.3 2.3 0 1 0 -4.6 0ZM336.7 97.7a2.3 2.3 0 1 0 4.6 0a2.3 2.3 0 1 0 -4.6 0ZM339.48 97.7a2.3 2.3 0 1 0 4.6 0a2.3 2.3 0 1 0 -4.6 0ZM342.26 97.68a2.3 2.3 0 1 0 4.6 0a2.3 2.3 0 1 0 -4.6 0ZM345.04 97.65a2.3 2.3 0 1 0 4.6 0a2.3 2.3 0 1 0 -4.6 0ZM347.82 97.62a2.3 2.3 0 1 0 4.6 0a2.3 2.3 0 1 0 -4.6 0ZM350.6 97.58a2.3 2.3 0 1 0 4.6 0a2.3 2.3 0 1 0 -4.6 0ZM353.38 97.53a2.3 2.3 0 1 0 4.6 0a2.3 2.3 0 1 0 -4.6 0ZM356.16 97.48a2.3 2.3 0 1 0 4.6 0a2.3 2.3 0 1 0 -4.6 0Z" fill="#ff0a0a"/>
<polyline points="145.5,66.3 146.5,66.3 147.5,66.29 148.5,66.29 149.5,66.28 150.5,66.27 151.5,66.26 152.5,66.25 153.5,66.23 154.5,66.22 155.5,66.21 156.5,66.19 157.5,66.18 158.5,66.16 159.5,66.14 160.5,66.13 161.5,66.11 162.5,66.09 163.5,66.07 164.5,66.05 165.5,66.03 166.5,66 167.5,65.97 168.5,65.94 169.5,65.91 170.5,65.88 171.5,65.85 172.5,65.81 173.5,65.78 174.5,65.74 175.5,65.7 176.5,65.66 177.5,65.62 178.5,65.58 179.5,65.53 180.5,65.48 181.5,65.43 182.5,65.38 183.5,65.32 184.5,65.26 185.5,65.2 186.5,65.13 187.5,65.07 188.5,65 189.5,64.93 190.5,64.86 191.5,64.79 192.5,64.71 193.5,64.64 194.5,64.56 195.5,64.49 196.5,64.41 197.5,64.32 198.5,64.24 199.5,64.15 200.5,64.06 201.5,63.97 202.5,63.87 203.5,63.76 204.5,63.66 205.5,63.54 206.5,63.42 207.5,63.28 208.5,63.14 209.5,62.99 210.5,62.83 211.5,62.67 212.5,62.51 213.5,62.35 214.5,62.19 215.5,62.03 216.5,61.87 217.5,61.73 218.5,61.58 219.5,61.45 220.5,61.31 221.5,61.18 222.5,61.04 223.5,60.91 224.5,60.77 225.5,60.63 226.5,60.48 227.5,60.32 228.5,60.16 229.5,59.99 230.5,59.81 231.5,59.61 232.5,59.4 233.5,59.18 234.5,58.95 235.5,58.71 236.5,58.46 237.5,58.21 238.5,57.95 239.5,57.68 240.5,57.41 241.5,57.14 242.5,56.86 243.5,56.57 244.5,56.28 245.5,55.98 246.5,55.66 247.5,55.35 248.5,55.02 249.5,54.69 250.5,54.35 251.5,54.01 252.5,53.67 253.5,53.32 254.5,52.98 255.5,52.63 256.5,52.29 257.5,51.96 258.5,51.63 259.5,51.3 260.5,50.95 261.5,50.58 262.5,50.18 263.5,49.74 264.5,49.26 265.5,48.72 266.5,48.05 267.5,47.26 268.5,46.39 269.5,45.45 270.5,44.47 271.5,43.47 272.5,42.48 273.5,41.52 274.5,40.62 275.5,39.79 276.5,38.96 277.5,38.14 278.5,37.36 279.5,36.63 280.5,35.96 281.5,35.24 282.5,34.53 283.5,33.9 284.5,33.47 285.5,33.3 286.5,33.57 287.5,34.22 288.5,35.07 289.5,35.96 290.5,37.09 291.5,38.42 292.5,39.86 293.5,41.39 294.5,43.11 295.5,44.88 296.5,46.71 297.5,48.53 298.5,50.14 299.5,51.6 300.5,53 301.5,54.41 302.5,55.74 303.5,56.8 304.5,57.7 305.5,58.47 306.5,59.11 307.5,59.68 308.5,60.18 309.5,60.61 310.5,60.98 311.5,61.31 312.5,61.62 313.5,61.9 314.5,62.14 315.5,62.33 316.5,62.47 317.5,62.59 318.5,62.7 319.5,62.8 320.5,62.88 321.5,62.96 322.5,63.02 323.5,63.08 324.5,63.12 325.5,63.16 326.5,63.2 327.5,63.24 328.5,63.28 329.5,63.31 330.5,63.34 331.5,63.36 332.5,63.38 333.5,63.39 334.5,63.4 335.5,63.4 336.5,63.4 337.5,63.4 338.5,63.4 339.5,63.4 340.5,63.4 341.5,63.4 342.5,63.4 343.5,63.39 344.5,63.39 345.5,63.39 346.5,63.39 347.5,63.38 348.5,63.38 349.5,63.37 350.5,63.37 351.5,63.36 352.5,63.35 353.5,63.34 354.5,63.33 355.5,63.32 356.5,63.31 357.5,63.3" fill="none" stroke="#0ee00e" stroke-width="3.0" stroke-linejoin="round"/>
<path d="M141.4 68.5L147.4 68.5L144.4 63.1ZM144.18 68.49L150.18 68.49L147.18 63.09ZM146.96 68.47L152.96 68.47L149.96 63.07ZM149.74 68.44L155.74 68.44L152.74 63.04ZM152.52 68.41L158.52 68.41L155.52 63.01ZM155.3 68.36L161.3 68.36L158.3 62.96ZM158.08 68.32L164.08 68.32L161.08 62.92ZM160.86 68.26L166.86 68.26L163.86 62.86ZM163.64 68.2L169.64 68.2L166.64 62.8ZM166.42 68.12L172.42 68.12L169.42 62.72ZM169.2 68.02L175.2 68.02L172.2 62.62ZM171.98 67.92L177.98 67.92L174.98 62.52ZM174.76 67.81L180.76 67.81L177.76 62.41ZM177.54 67.68L183.54 67.68L180.54 62.28ZM180.32 67.53L186.32 67.53L183.32 62.13ZM183.1 67.36L189.1 67.36L186.1 61.96ZM185.88 67.17L191.88 67.17L188.88 61.77ZM188.66 66.97L194.66 66.97L191.66 61.57ZM191.44 66.77L197.44 66.77L194.44 61.37ZM194.22 66.55L200.22 66.55L197.22 61.15ZM197 66.31L203 66.31L200 60.91ZM199.78 66.04L205.78 66.04L202.78 60.64ZM202.56 65.73L208.56 65.73L205.56 60.33ZM205.34 65.36L211.34 65.36L208.34 59.96ZM208.12 64.93L214.12 64.93L211.12 59.53ZM210.9 64.48L216.9 64.48L213.9 59.08ZM213.68 64.05L219.68 64.05L216.68 58.65ZM216.46 63.65L222.46 63.65L219.46 58.25ZM219.24 63.28L225.24 63.28L222.24 57.88ZM222.02 62.89L228.02 62.89L225.02 57.49ZM224.8 62.48L230.8 62.48L227.8 57.08ZM227.58 61.99L233.58 61.99L230.58 56.59ZM230.36 61.41L236.36 61.41L233.36 56.01ZM233.14 60.76L239.14 60.76L236.14 55.36ZM235.92 60.04L241.92 60.04L238.92 54.64ZM238.7 59.28L244.7 59.28L241.7 53.88ZM241.48 58.49L247.48 58.49L244.48 53.09ZM244.26 57.62L250.26 57.62L247.26 52.22ZM247.04 56.71L253.04 56.71L250.04 51.31ZM249.82 55.76L255.82 55.76L252.82 50.36ZM252.6 54.79L258.6 54.79L255.6 49.39ZM255.38 53.87L261.38 53.87L258.38 48.47ZM258.16 52.91L264.16 52.91L261.16 47.51ZM260.94 51.73L266.94 51.73L263.94 46.33ZM263.72 50.08L269.72 50.08L266.72 44.68ZM266.5 47.65L272.5 47.65L269.5 42.25ZM269.28 44.9L275.28 44.9L272.28 39.5ZM272.06 42.35L278.06 42.35L275.06 36.95ZM274.84 40.07L280.84 40.07L277.84 34.67ZM277.62 38.08L283.62 38.08L280.62 32.68ZM280.4 36.16L286.4 36.16L283.4 30.76ZM283.18 35.63L289.18 35.63L286.18 30.23ZM285.96 37.67L291.96 37.67L288.96 32.27ZM288.74 40.96L294.74 40.96L291.74 35.56ZM291.52 45.34L297.52 45.34L294.52 39.94ZM294.3 50.38L300.3 50.38L297.3 44.98ZM297.08 54.62L303.08 54.62L300.08 49.22ZM299.86 58.35L305.86 58.35L302.86 52.95ZM302.64 60.76L308.64 60.76L305.64 55.36ZM305.42 62.34L311.42 62.34L308.42 56.94ZM308.2 63.41L314.2 63.41L311.2 58.01ZM310.98 64.22L316.98 64.22L313.98 58.82ZM313.76 64.7L319.76 64.7L316.76 59.3ZM316.54 65L322.54 65L319.54 59.6ZM319.32 65.21L325.32 65.21L322.32 59.81ZM322.1 65.35L328.1 65.35L325.1 59.95ZM324.88 65.46L330.88 65.46L327.88 60.06ZM327.66 65.54L333.66 65.54L330.66 60.14ZM330.44 65.59L336.44 65.59L333.44 60.19ZM333.22 65.6L339.22 65.6L336.22 60.2ZM336 65.6L342 65.6L339 60.2ZM338.78 65.6L344.78 65.6L341.78 60.2ZM341.56 65.59L347.56 65.59L344.56 60.19ZM344.34 65.58L350.34 65.58L347.34 60.18ZM347.12 65.57L353.12 65.57L350.12 60.17ZM349.9 65.55L355.9 65.55L352.9 60.15ZM352.68 65.52L358.68 65.52L355.68 60.12ZM355.46 65.49L361.46 65.49L358.46 60.09Z" fill="#0ee00e"/>
<polyline points="145.5,33.7 146.5,33.67 147.5,33.63 148.5,33.6 149.5,33.57 150.5,33.53 151.5,33.49 152.5,33.46 153.5,33.42 154.5,33.38 155.5,33.34 156.5,33.3 157.5,33.27 158.5,33.23 159.5,33.18 160.5,33.14 161.5,33.1 162.5,33.06 163.5,33.02 164.5,32.97 165.5,32.93 166.5,32.89 167.5,32.84 168.5,32.8 169.5,32.75 170.5,32.71 171.5,32.66 172.5,32.62 173.5,32.57 174.5,32.52 175.5,32.48 176.5,32.43 177.5,32.38 178.5,32.33 179.5,32.28 180.5,32.23 181.5,32.17 182.5,32.12 183.5,32.06 184.5,32.01 185.5,31.95 186.5,31.9 187.5,31.84 188.5,31.78 189.5,31.73 190.5,31.67 191.5,31.62 192.5,31.56 193.5,31.51 194.5,31.45 195.5,31.4 196.5,31.34 197.5,31.28 198.5,31.23 199.5,31.17 200.5,31.11 201.5,31.04 202.5,30.98 203.5,30.91 204.5,30.84 205.5,30.76 206.5,30.68 207.5,30.6 208.5,30.52 209.5,30.43 210.5,30.34 211.5,30.24 212.5,30.14 213.5,30.04 214.5,29.94 215.5,29.83 216.5,29.72 217.5,29.6 218.5,29.48 219.5,29.36 220.5,29.24 221.5,29.1 222.5,28.96 223.5,28.81 224.5,28.65 225.5,28.49 226.5,28.32 227.5,28.15 228.5,27.97 229.5,27.79 230.5,27.61 231.5,27.43 232.5,27.25 233.5,27.07 234.5,26.89 235.5,26.71 236.5,26.54 237.5,26.37 238.5,26.19 239.5,26.01 240.5,25.83 241.5,25.63 242.5,25.41 243.5,25.18 244.5,24.91 245.5,24.61 246.5,24.3 247.5,23.98 248.5,23.66 249.5,23.35 250.5,23.06 251.5,22.79 252.5,22.53 253.5,22.27 254.5,22.02 255.5,21.77 256.5,21.5 257.5,21.22 258.5,20.91 259.5,20.58 260.5,20.21 261.5,19.78 262.5,19.29 263.5,18.77 264.5,18.22 265.5,17.66 266.5,17.1 267.5,16.56 268.5,16.04 269.5,15.48 270.5,14.91 271.5,14.33 272.5,13.76 273.5,13.22 274.5,12.71 275.5,12.27 276.5,11.9 277.5,11.56 278.5,11.22 279.5,10.91 280.5,10.63 281.5,10.43 282.5,10.32 283.5,10.31 284.5,10.35 285.5,10.43 286.5,10.54 287.5,10.69 288.5,11.02 289.5,11.46 290.5,11.95 291.5,12.55 292.5,13.25 293.5,14.01 294.5,14.81 295.5,15.71 296.5,16.68 297.5,17.64 298.5,18.55 299.5,19.46 300.5,20.36 301.5,21.2 302.5,21.94 303.5,22.63 304.5,23.27 305.5,23.84 306.5,24.3 307.5,24.69 308.5,25.05 309.5,25.33 310.5,25.49 311.5,25.56 312.5,25.62 313.5,25.67 314.5,25.72 315.5,25.75 316.5,25.78 317.5,25.79 318.5,25.8 319.5,25.8 320.5,25.78 321.5,25.75 322.5,25.71 323.5,25.66 324.5,25.61 325.5,25.55 326.5,25.49 327.5,25.43 328.5,25.37 329.5,25.32 330.5,25.28 331.5,25.23 332.5,25.19 333.5,25.15 334.5,25.1 335.5,25.06 336.5,25.01 337.5,24.97 338.5,24.93 339.5,24.88 340.5,24.84 341.5,24.79 342.5,24.75 343.5,24.71 344.5,24.66 345.5,24.62 346.5,24.58 347.5,24.53 348.5,24.49 349.5,24.45 350.5,24.4 351.5,24.36 352.5,24.32 353.5,24.27 354.5,24.23 355.5,24.19 356.5,24.14 357.5,24.1" fill="none" stroke="#0a0aff" stroke-width="3.0" stroke-linejoin="round"/>
<path d="M141.4 31.54L147.4 31.54L144.4 36.94ZM144.18 31.44L150.18 31.44L147.18 36.84ZM146.96 31.35L152.96 31.35L149.96 36.75ZM149.74 31.25L155.74 31.25L152.74 36.65ZM152.52 31.14L158.52 31.14L155.52 36.54ZM155.3 31.03L161.3 31.03L158.3 36.43ZM158.08 30.92L164.08 30.92L161.08 36.32ZM160.86 30.8L166.86 30.8L163.86 36.2ZM163.64 30.68L169.64 30.68L166.64 36.08ZM166.42 30.56L172.42 30.56L169.42 35.96ZM169.2 30.43L175.2 30.43L172.2 35.83ZM171.98 30.3L177.98 30.3L174.98 35.7ZM174.76 30.17L180.76 30.17L177.76 35.57ZM177.54 30.02L183.54 30.02L180.54 35.42ZM180.32 29.87L186.32 29.87L183.32 35.27ZM183.1 29.72L189.1 29.72L186.1 35.12ZM185.88 29.56L191.88 29.56L188.88 34.96ZM188.66 29.41L194.66 29.41L191.66 34.81ZM191.44 29.26L197.44 29.26L194.44 34.66ZM194.22 29.1L200.22 29.1L197.22 34.5ZM197 28.94L203 28.94L200 34.34ZM199.78 28.76L205.78 28.76L202.78 34.16ZM202.56 28.56L208.56 28.56L205.56 33.96ZM205.34 28.33L211.34 28.33L208.34 33.73ZM208.12 28.08L214.12 28.08L211.12 33.48ZM210.9 27.8L216.9 27.8L213.9 33.2ZM213.68 27.5L219.68 27.5L216.68 32.9ZM216.46 27.17L222.46 27.17L219.46 32.57ZM219.24 26.8L225.24 26.8L222.24 32.2ZM222.02 26.37L228.02 26.37L225.02 31.77ZM224.8 25.9L230.8 25.9L227.8 31.3ZM227.58 25.4L233.58 25.4L230.58 30.8ZM230.36 24.89L236.36 24.89L233.36 30.29ZM233.14 24.4L239.14 24.4L236.14 29.8ZM235.92 23.92L241.92 23.92L238.92 29.32ZM238.7 23.39L244.7 23.39L241.7 28.79ZM241.48 22.72L247.48 22.72L244.48 28.12ZM244.26 21.86L250.26 21.86L247.26 27.26ZM247.04 20.99L253.04 20.99L250.04 26.39ZM249.82 20.24L255.82 20.24L252.82 25.64ZM252.6 19.54L258.6 19.54L255.6 24.94ZM255.38 18.75L261.38 18.75L258.38 24.15ZM258.16 17.73L264.16 17.73L261.16 23.13ZM260.94 16.33L266.94 16.33L263.94 21.73ZM263.72 14.78L269.72 14.78L266.72 20.18ZM266.5 13.28L272.5 13.28L269.5 18.68ZM269.28 11.68L275.28 11.68L272.28 17.08ZM272.06 10.26L278.06 10.26L275.06 15.66ZM274.84 9.25L280.84 9.25L277.84 14.65ZM277.62 8.41L283.62 8.41L280.62 13.81ZM280.4 8.1L286.4 8.1L283.4 13.5ZM283.18 8.3L289.18 8.3L286.18 13.7ZM285.96 9.02L291.96 9.02L288.96 14.42ZM288.74 10.51L294.74 10.51L291.74 15.91ZM291.52 12.63L297.52 12.63L294.52 18.03ZM294.3 15.25L300.3 15.25L297.3 20.65ZM297.08 17.79L303.08 17.79L300.08 23.19ZM299.86 19.99L305.86 19.99L302.86 25.39ZM302.64 21.71L308.64 21.71L305.64 27.11ZM305.42 22.82L311.42 22.82L308.42 28.22ZM308.2 23.34L314.2 23.34L311.2 28.74ZM310.98 23.49L316.98 23.49L313.98 28.89ZM313.76 23.58L319.76 23.58L316.76 28.98ZM316.54 23.6L322.54 23.6L319.54 29ZM319.32 23.52L325.32 23.52L322.32 28.92ZM322.1 23.37L328.1 23.37L325.1 28.77ZM324.88 23.21L330.88 23.21L327.88 28.61ZM327.66 23.07L333.66 23.07L330.66 28.47ZM330.44 22.95L336.44 22.95L333.44 28.35ZM333.22 22.83L339.22 22.83L336.22 28.23ZM336 22.7L342 22.7L339 28.1ZM338.78 22.58L344.78 22.58L341.78 27.98ZM341.56 22.46L347.56 22.46L344.56 27.86ZM344.34 22.34L350.34 22.34L347.34 27.74ZM347.12 22.22L353.12 22.22L350.12 27.62ZM349.9 22.1L355.9 22.1L352.9 27.5ZM352.68 21.98L358.68 21.98L355.68 27.38ZM355.46 21.86L361.46 21.86L358.46 27.26Z" fill="#0a0aff"/>
</g>
<rect x="145.5" y="5.5" width="212" height="160" fill="none" stroke="#585858" stroke-width="1.3"/>
<path d="M145.5 165.5v-2.6M172 165.5v-2M198.5 165.5v-2.6M225 165.5v-2M251.5 165.5v-2.6M278 165.5v-2M304.5 165.5v-2.6M331 165.5v-2M357.5 165.5v-2.6" stroke="#3a3a3a" stroke-width="1" fill="none"/>
<text x="145.5" y="175.8" font-size="9.2" text-anchor="middle" stroke="#111">200</text>
<text x="198.5" y="175.8" font-size="9.2" text-anchor="middle" stroke="#111">220</text>
<text x="251.5" y="175.8" font-size="9.2" text-anchor="middle" stroke="#111">240</text>
<text x="304.5" y="175.8" font-size="9.2" text-anchor="middle" stroke="#111">260</text>
<text x="357.5" y="175.8" font-size="9.2" text-anchor="middle" stroke="#111">280</text>
<text x="255.6" y="184" font-size="10.4" text-anchor="middle" stroke="#111">Temperature (°C)</text>
<text transform="translate(133.7 77.3) rotate(-90)" font-size="9.6" text-anchor="middle" stroke="#111">Endo<tspan font-family="DejaVu Sans" font-size="8.5">→</tspan></text>
<text x="152.2" y="20.3" font-size="13.4" stroke="#111">a</text>
<path d="M362.65 25.13L367.75 25.13L365.2 29.72Z" fill="#0a0aff"/>
<text x="378.3" y="30" font-size="8.6" fill="#1414ff" stroke="#1414ff">E910</text>
<path d="M362.65 34.73L367.75 34.73L365.2 39.32Z" fill="none" stroke="#ababff" stroke-width="0.7"/>
<text x="378.3" y="39.6" font-size="8.6" fill="#1414ff" stroke="#1414ff">T910</text>
<path d="M362.65 62.17L367.75 62.17L365.2 57.58Z" fill="#0ee00e"/>
<text x="378.3" y="63.3" font-size="8.6" fill="#0ee00e" stroke="#0ee00e">E820</text>
<path d="M362.65 71.67L367.75 71.67L365.2 67.08Z" fill="none" stroke="#90eaa8" stroke-width="0.7"/>
<text x="378.3" y="72.8" font-size="8.6" fill="#0ee00e" stroke="#0ee00e">T820</text>
<path d="M363.25 96.9a1.95 1.95 0 1 0 3.91 0a1.95 1.95 0 1 0 -3.91 0Z" fill="#ff0a0a"/>
<text x="378.3" y="99.9" font-size="8.6" fill="#ff0a0a" stroke="#ff0a0a">E730</text>
<path d="M363.25 106.8a1.95 1.95 0 1 0 3.91 0a1.95 1.95 0 1 0 -3.91 0Z" fill="none" stroke="#ffaaaa" stroke-width="0.7"/>
<text x="378.3" y="109.8" font-size="8.6" fill="#ff0a0a" stroke="#ff0a0a">T730</text>
<path d="M363.33 136.63h3.74v3.74h-3.74Z" fill="#000000"/>
<text x="378.3" y="141.5" font-size="8.6" fill="#111" stroke="#111">E640</text>
<path d="M363.33 146.23h3.74v3.74h-3.74Z" fill="none" stroke="#909090" stroke-width="0.7"/>
<text x="378.3" y="151.1" font-size="8.6" fill="#111" stroke="#111">T640</text>
<line x1="31.5" y1="274.14" x2="243.5" y2="274.14" stroke="#333" stroke-width="1.3" stroke-dasharray="3.7 3.15"/>
<g clip-path="url(#clip0)">
<polyline points="31.9,345.9 37.79,344.9 43.68,344.7 49.57,344.5 55.46,344.3 61.34,343.7 67.23,343.1 73.12,341.9 79.01,340.3 84.9,339 90.79,337.3 96.68,335.3 102.57,332.6 108.46,329.9 114.34,326.4 120.23,322.5 126.12,318.4 132.01,313.3 137.9,307.3 143.79,301.3 149.68,294.5 155.57,287.4 161.46,279.2 167.34,269.9 173.23,261.4 179.12,252.2 185.01,243.7 190.9,234.4 196.79,226 202.68,218.6 208.57,212.9 214.46,209 220.34,206.3 226.23,204.7 232.12,203.9 238.01,203.6 243.9,203.6" fill="none" stroke="#9a9af0" stroke-width="0.8"/>
<polyline points="31.9,345.9 37.79,344.9 43.68,344.7 49.57,344.5 55.46,344.3 61.34,343.8 67.23,343.3 73.12,342.3 79.01,341 84.9,339.8 90.79,338.2 96.68,336.3 102.57,334.1 108.46,331.6 114.34,328.7 120.23,325.5 126.12,321.8 132.01,317.7 137.9,312.8 143.79,307.3 149.68,301.8 155.57,294.5 161.46,287.4 167.34,278.6 173.23,268.5 179.12,256.8 185.01,245.3 190.9,233.6 196.79,223.5 202.68,215.9 208.57,210.4 214.46,207.1 220.34,205.2 226.23,204.2 232.12,203.7 238.01,203.6 243.9,203.6" fill="none" stroke="#ff8a8a" stroke-width="0.8"/>
<circle cx="31.9" cy="345.9" r="2.25" fill="url(#gR)"/><circle cx="37.79" cy="344.9" r="2.25" fill="url(#gR)"/><circle cx="43.68" cy="344.7" r="2.25" fill="url(#gR)"/><circle cx="49.57" cy="344.5" r="2.25" fill="url(#gR)"/><circle cx="55.46" cy="344.3" r="2.25" fill="url(#gR)"/><circle cx="61.34" cy="343.8" r="2.25" fill="url(#gR)"/><circle cx="67.23" cy="343.3" r="2.25" fill="url(#gR)"/><circle cx="73.12" cy="342.3" r="2.25" fill="url(#gR)"/><circle cx="79.01" cy="341" r="2.25" fill="url(#gR)"/><circle cx="84.9" cy="339.8" r="2.25" fill="url(#gR)"/><circle cx="90.79" cy="338.2" r="2.25" fill="url(#gR)"/><circle cx="96.68" cy="336.3" r="2.25" fill="url(#gR)"/><circle cx="102.57" cy="334.1" r="2.25" fill="url(#gR)"/><circle cx="108.46" cy="331.6" r="2.25" fill="url(#gR)"/><circle cx="114.34" cy="328.7" r="2.25" fill="url(#gR)"/><circle cx="120.23" cy="325.5" r="2.25" fill="url(#gR)"/><circle cx="126.12" cy="321.8" r="2.25" fill="url(#gR)"/><circle cx="132.01" cy="317.7" r="2.25" fill="url(#gR)"/><circle cx="137.9" cy="312.8" r="2.25" fill="url(#gR)"/><circle cx="143.79" cy="307.3" r="2.25" fill="url(#gR)"/><circle cx="149.68" cy="301.8" r="2.25" fill="url(#gR)"/><circle cx="155.57" cy="294.5" r="2.25" fill="url(#gR)"/><circle cx="161.46" cy="287.4" r="2.25" fill="url(#gR)"/><circle cx="167.34" cy="278.6" r="2.25" fill="url(#gR)"/><circle cx="173.23" cy="268.5" r="2.25" fill="url(#gR)"/><circle cx="179.12" cy="256.8" r="2.25" fill="url(#gR)"/><circle cx="185.01" cy="245.3" r="2.25" fill="url(#gR)"/><circle cx="190.9" cy="233.6" r="2.25" fill="url(#gR)"/><circle cx="196.79" cy="223.5" r="2.25" fill="url(#gR)"/><circle cx="202.68" cy="215.9" r="2.25" fill="url(#gR)"/><circle cx="208.57" cy="210.4" r="2.25" fill="url(#gR)"/><circle cx="214.46" cy="207.1" r="2.25" fill="url(#gR)"/><circle cx="220.34" cy="205.2" r="2.25" fill="url(#gR)"/><circle cx="226.23" cy="204.2" r="2.25" fill="url(#gR)"/><circle cx="232.12" cy="203.7" r="2.25" fill="url(#gR)"/><circle cx="238.01" cy="203.6" r="2.25" fill="url(#gR)"/><circle cx="243.9" cy="203.6" r="2.25" fill="url(#gR)"/>
<circle cx="31.9" cy="345.9" r="2.25" fill="url(#gB)"/><circle cx="37.79" cy="344.9" r="2.25" fill="url(#gB)"/><circle cx="43.68" cy="344.7" r="2.25" fill="url(#gB)"/><circle cx="49.57" cy="344.5" r="2.25" fill="url(#gB)"/><circle cx="55.46" cy="344.3" r="2.25" fill="url(#gB)"/><circle cx="61.34" cy="343.7" r="2.25" fill="url(#gB)"/><circle cx="67.23" cy="343.1" r="2.25" fill="url(#gB)"/><circle cx="73.12" cy="341.9" r="2.25" fill="url(#gB)"/><circle cx="79.01" cy="340.3" r="2.25" fill="url(#gB)"/><circle cx="84.9" cy="339" r="2.25" fill="url(#gB)"/><circle cx="90.79" cy="337.3" r="2.25" fill="url(#gB)"/><circle cx="96.68" cy="335.3" r="2.25" fill="url(#gB)"/><circle cx="102.57" cy="332.6" r="2.25" fill="url(#gB)"/><circle cx="108.46" cy="329.9" r="2.25" fill="url(#gB)"/><circle cx="114.34" cy="326.4" r="2.25" fill="url(#gB)"/><circle cx="120.23" cy="322.5" r="2.25" fill="url(#gB)"/><circle cx="126.12" cy="318.4" r="2.25" fill="url(#gB)"/><circle cx="132.01" cy="313.3" r="2.25" fill="url(#gB)"/><circle cx="137.9" cy="307.3" r="2.25" fill="url(#gB)"/><circle cx="143.79" cy="301.3" r="2.25" fill="url(#gB)"/><circle cx="149.68" cy="294.5" r="2.25" fill="url(#gB)"/><circle cx="155.57" cy="287.4" r="2.25" fill="url(#gB)"/><circle cx="161.46" cy="279.2" r="2.25" fill="url(#gB)"/><circle cx="167.34" cy="269.9" r="2.25" fill="url(#gB)"/><circle cx="173.23" cy="261.4" r="2.25" fill="url(#gB)"/><circle cx="179.12" cy="252.2" r="2.25" fill="url(#gB)"/><circle cx="185.01" cy="243.7" r="2.25" fill="url(#gB)"/><circle cx="190.9" cy="234.4" r="2.25" fill="url(#gB)"/><circle cx="196.79" cy="226" r="2.25" fill="url(#gB)"/><circle cx="202.68" cy="218.6" r="2.25" fill="url(#gB)"/><circle cx="208.57" cy="212.9" r="2.25" fill="url(#gB)"/><circle cx="214.46" cy="209" r="2.25" fill="url(#gB)"/><circle cx="220.34" cy="206.3" r="2.25" fill="url(#gB)"/><circle cx="226.23" cy="204.7" r="2.25" fill="url(#gB)"/><circle cx="232.12" cy="203.9" r="2.25" fill="url(#gB)"/><circle cx="238.01" cy="203.6" r="2.25" fill="url(#gB)"/><circle cx="243.9" cy="203.6" r="2.25" fill="url(#gB)"/>
</g>
<rect x="31.5" y="188.5" width="212" height="157" fill="none" stroke="#585858" stroke-width="1.3"/>
<path d="M31.5 345.5v3M55.06 345.5v1.8M78.61 345.5v3M102.17 345.5v1.8M125.72 345.5v3M149.28 345.5v1.8M172.83 345.5v3M196.39 345.5v1.8M219.94 345.5v3M243.5 345.5v1.8M31.5 345.5h-3M31.5 331.23h-1.8M31.5 316.95h-3M31.5 302.68h-1.8M31.5 288.41h-3M31.5 274.14h-1.8M31.5 259.86h-3M31.5 245.59h-1.8M31.5 231.32h-3M31.5 217.05h-1.8M31.5 202.77h-3" stroke="#3a3a3a" stroke-width="1" fill="none"/>
<text x="31.5" y="356.8" font-size="7.6" text-anchor="middle" stroke="#111">0.0</text>
<text x="78.61" y="356.8" font-size="7.6" text-anchor="middle" stroke="#111">0.4</text>
<text x="125.72" y="356.8" font-size="7.6" text-anchor="middle" stroke="#111">0.8</text>
<text x="172.83" y="356.8" font-size="7.6" text-anchor="middle" stroke="#111">1.2</text>
<text x="219.94" y="356.8" font-size="7.6" text-anchor="middle" stroke="#111">1.6</text>
<text x="26.6" y="348.1" font-size="7.6" text-anchor="end" stroke="#111">0.0</text>
<text x="26.6" y="319.55" font-size="7.6" text-anchor="end" stroke="#111">0.2</text>
<text x="26.6" y="291.01" font-size="7.6" text-anchor="end" stroke="#111">0.4</text>
<text x="26.6" y="262.46" font-size="7.6" text-anchor="end" stroke="#111">0.6</text>
<text x="26.6" y="233.92" font-size="7.6" text-anchor="end" stroke="#111">0.8</text>
<text x="26.6" y="205.37" font-size="7.6" text-anchor="end" stroke="#111">1.0</text>
<text x="137.5" y="365.5" font-size="7.3" text-anchor="middle" stroke="#111">Time (min)</text>
<text transform="translate(13.9 268.5) rotate(-90)" font-size="8.3" text-anchor="middle" stroke="#111">Relative crystallinity</text>
<text x="40.1" y="204.4" font-size="13.4" stroke="#111">b</text>
<line x1="76" y1="196.1" x2="93.4" y2="196.1" stroke="#b4b4ea" stroke-width="1.4"/>
<circle cx="84.8" cy="196.1" r="2.25" fill="url(#gB)"/>
<text x="95.9" y="199" font-size="7.55" stroke="#111">m-PE/PET(60/40)-TSE</text>
<line x1="76" y1="206" x2="93.4" y2="206" stroke="#ffb0b0" stroke-width="1.4"/>
<circle cx="84.8" cy="206" r="2.25" fill="url(#gR)"/>
<text x="95.9" y="208.9" font-size="7.55" stroke="#111">m-PE/PET(60/40)-ERE</text>
<line x1="270.5" y1="274.14" x2="482.5" y2="274.14" stroke="#333" stroke-width="1.3" stroke-dasharray="3.7 3.15"/>
<g clip-path="url(#clip1)">
<polyline points="269,345.9 274.89,344.9 280.78,344.9 286.67,344.7 292.56,344.3 298.44,343.5 304.33,342.7 310.22,341.41 316.11,340.21 322,338.81 327.89,337.11 333.78,334.81 339.67,332.42 345.56,329.32 351.44,326.22 357.33,322.53 363.22,318.23 369.11,313.64 375,307.35 380.89,300.55 386.78,292.86 392.67,284.97 398.56,275.98 404.44,266.5 410.33,256.91 416.22,246.32 422.11,235.63 428,225.55 433.89,217.36 439.78,211.96 445.67,208.17 451.56,205.67 457.44,204.27 463.33,203.77 469.22,203.47 475.11,203.17 481,203.17" fill="none" stroke="#9a9af0" stroke-width="0.8"/>
<polyline points="269,345.9 274.89,344.9 280.78,344.9 286.67,344.8 292.56,344.6 298.44,344.3 304.33,343.5 310.22,342.7 316.11,341.4 322,340.2 327.89,339 333.78,336.9 339.67,335 345.56,333 351.44,330.3 357.33,327.4 363.22,323.7 369.11,320.1 375,315.5 380.89,310 386.78,304.6 392.67,298.6 398.56,291.5 404.44,282.7 410.33,272.4 416.22,260.4 422.11,248.6 428,236.3 433.89,226 439.78,217.8 445.67,212.3 451.56,208.2 457.44,205.8 463.33,204.4 469.22,203.6 475.11,203.3 481,203.2" fill="none" stroke="#ff8a8a" stroke-width="0.8"/>
<circle cx="269" cy="345.9" r="2.25" fill="url(#gR)"/><circle cx="274.89" cy="344.9" r="2.25" fill="url(#gR)"/><circle cx="280.78" cy="344.9" r="2.25" fill="url(#gR)"/><circle cx="286.67" cy="344.8" r="2.25" fill="url(#gR)"/><circle cx="292.56" cy="344.6" r="2.25" fill="url(#gR)"/><circle cx="298.44" cy="344.3" r="2.25" fill="url(#gR)"/><circle cx="304.33" cy="343.5" r="2.25" fill="url(#gR)"/><circle cx="310.22" cy="342.7" r="2.25" fill="url(#gR)"/><circle cx="316.11" cy="341.4" r="2.25" fill="url(#gR)"/><circle cx="322" cy="340.2" r="2.25" fill="url(#gR)"/><circle cx="327.89" cy="339" r="2.25" fill="url(#gR)"/><circle cx="333.78" cy="336.9" r="2.25" fill="url(#gR)"/><circle cx="339.67" cy="335" r="2.25" fill="url(#gR)"/><circle cx="345.56" cy="333" r="2.25" fill="url(#gR)"/><circle cx="351.44" cy="330.3" r="2.25" fill="url(#gR)"/><circle cx="357.33" cy="327.4" r="2.25" fill="url(#gR)"/><circle cx="363.22" cy="323.7" r="2.25" fill="url(#gR)"/><circle cx="369.11" cy="320.1" r="2.25" fill="url(#gR)"/><circle cx="375" cy="315.5" r="2.25" fill="url(#gR)"/><circle cx="380.89" cy="310" r="2.25" fill="url(#gR)"/><circle cx="386.78" cy="304.6" r="2.25" fill="url(#gR)"/><circle cx="392.67" cy="298.6" r="2.25" fill="url(#gR)"/><circle cx="398.56" cy="291.5" r="2.25" fill="url(#gR)"/><circle cx="404.44" cy="282.7" r="2.25" fill="url(#gR)"/><circle cx="410.33" cy="272.4" r="2.25" fill="url(#gR)"/><circle cx="416.22" cy="260.4" r="2.25" fill="url(#gR)"/><circle cx="422.11" cy="248.6" r="2.25" fill="url(#gR)"/><circle cx="428" cy="236.3" r="2.25" fill="url(#gR)"/><circle cx="433.89" cy="226" r="2.25" fill="url(#gR)"/><circle cx="439.78" cy="217.8" r="2.25" fill="url(#gR)"/><circle cx="445.67" cy="212.3" r="2.25" fill="url(#gR)"/><circle cx="451.56" cy="208.2" r="2.25" fill="url(#gR)"/><circle cx="457.44" cy="205.8" r="2.25" fill="url(#gR)"/><circle cx="463.33" cy="204.4" r="2.25" fill="url(#gR)"/><circle cx="469.22" cy="203.6" r="2.25" fill="url(#gR)"/><circle cx="475.11" cy="203.3" r="2.25" fill="url(#gR)"/><circle cx="481" cy="203.2" r="2.25" fill="url(#gR)"/>
<circle cx="269" cy="345.9" r="2.25" fill="url(#gB)"/><circle cx="274.89" cy="344.9" r="2.25" fill="url(#gB)"/><circle cx="280.78" cy="344.9" r="2.25" fill="url(#gB)"/><circle cx="286.67" cy="344.7" r="2.25" fill="url(#gB)"/><circle cx="292.56" cy="344.3" r="2.25" fill="url(#gB)"/><circle cx="298.44" cy="343.5" r="2.25" fill="url(#gB)"/><circle cx="304.33" cy="342.7" r="2.25" fill="url(#gB)"/><circle cx="310.22" cy="341.41" r="2.25" fill="url(#gB)"/><circle cx="316.11" cy="340.21" r="2.25" fill="url(#gB)"/><circle cx="322" cy="338.81" r="2.25" fill="url(#gB)"/><circle cx="327.89" cy="337.11" r="2.25" fill="url(#gB)"/><circle cx="333.78" cy="334.81" r="2.25" fill="url(#gB)"/><circle cx="339.67" cy="332.42" r="2.25" fill="url(#gB)"/><circle cx="345.56" cy="329.32" r="2.25" fill="url(#gB)"/><circle cx="351.44" cy="326.22" r="2.25" fill="url(#gB)"/><circle cx="357.33" cy="322.53" r="2.25" fill="url(#gB)"/><circle cx="363.22" cy="318.23" r="2.25" fill="url(#gB)"/><circle cx="369.11" cy="313.64" r="2.25" fill="url(#gB)"/><circle cx="375" cy="307.35" r="2.25" fill="url(#gB)"/><circle cx="380.89" cy="300.55" r="2.25" fill="url(#gB)"/><circle cx="386.78" cy="292.86" r="2.25" fill="url(#gB)"/><circle cx="392.67" cy="284.97" r="2.25" fill="url(#gB)"/><circle cx="398.56" cy="275.98" r="2.25" fill="url(#gB)"/><circle cx="404.44" cy="266.5" r="2.25" fill="url(#gB)"/><circle cx="410.33" cy="256.91" r="2.25" fill="url(#gB)"/><circle cx="416.22" cy="246.32" r="2.25" fill="url(#gB)"/><circle cx="422.11" cy="235.63" r="2.25" fill="url(#gB)"/><circle cx="428" cy="225.55" r="2.25" fill="url(#gB)"/><circle cx="433.89" cy="217.36" r="2.25" fill="url(#gB)"/><circle cx="439.78" cy="211.96" r="2.25" fill="url(#gB)"/><circle cx="445.67" cy="208.17" r="2.25" fill="url(#gB)"/><circle cx="451.56" cy="205.67" r="2.25" fill="url(#gB)"/><circle cx="457.44" cy="204.27" r="2.25" fill="url(#gB)"/><circle cx="463.33" cy="203.77" r="2.25" fill="url(#gB)"/><circle cx="469.22" cy="203.47" r="2.25" fill="url(#gB)"/><circle cx="475.11" cy="203.17" r="2.25" fill="url(#gB)"/><circle cx="481" cy="203.17" r="2.25" fill="url(#gB)"/>
</g>
<rect x="270.5" y="188.5" width="212" height="157" fill="none" stroke="#585858" stroke-width="1.3"/>
<path d="M270.5 345.5v3M294.06 345.5v1.8M317.61 345.5v3M341.17 345.5v1.8M364.72 345.5v3M388.28 345.5v1.8M411.83 345.5v3M435.39 345.5v1.8M458.94 345.5v3M482.5 345.5v1.8M270.5 345.5h-3M270.5 331.23h-1.8M270.5 316.95h-3M270.5 302.68h-1.8M270.5 288.41h-3M270.5 274.14h-1.8M270.5 259.86h-3M270.5 245.59h-1.8M270.5 231.32h-3M270.5 217.05h-1.8M270.5 202.77h-3" stroke="#3a3a3a" stroke-width="1" fill="none"/>
<text x="270.5" y="356.8" font-size="7.6" text-anchor="middle" stroke="#111">0.0</text>
<text x="317.61" y="356.8" font-size="7.6" text-anchor="middle" stroke="#111">0.4</text>
<text x="364.72" y="356.8" font-size="7.6" text-anchor="middle" stroke="#111">0.8</text>
<text x="411.83" y="356.8" font-size="7.6" text-anchor="middle" stroke="#111">1.2</text>
<text x="458.94" y="356.8" font-size="7.6" text-anchor="middle" stroke="#111">1.6</text>
<text x="265.6" y="348.1" font-size="7.6" text-anchor="end" stroke="#111">0.0</text>
<text x="265.6" y="319.55" font-size="7.6" text-anchor="end" stroke="#111">0.2</text>
<text x="265.6" y="291.01" font-size="7.6" text-anchor="end" stroke="#111">0.4</text>
<text x="265.6" y="262.46" font-size="7.6" text-anchor="end" stroke="#111">0.6</text>
<text x="265.6" y="233.92" font-size="7.6" text-anchor="end" stroke="#111">0.8</text>
<text x="265.6" y="205.37" font-size="7.6" text-anchor="end" stroke="#111">1.0</text>
<text x="376.5" y="365.5" font-size="7.3" text-anchor="middle" stroke="#111">Time (min)</text>
<text transform="translate(252.9 268.5) rotate(-90)" font-size="8.3" text-anchor="middle" stroke="#111">Relative crystallinity</text>
<text x="279.1" y="204.4" font-size="13.4" stroke="#111">c</text>
<line x1="314.8" y1="196.7" x2="332.2" y2="196.7" stroke="#b4b4ea" stroke-width="1.4"/>
<circle cx="324.2" cy="196.7" r="2.25" fill="url(#gB)"/>
<text x="336.2" y="199.6" font-size="7.55" stroke="#111">m-PE/PET(70/30)-TSE</text>
<line x1="314.8" y1="206.6" x2="332.2" y2="206.6" stroke="#ffb0b0" stroke-width="1.4"/>
<circle cx="324.2" cy="206.6" r="2.25" fill="url(#gR)"/>
<text x="336.2" y="209.5" font-size="7.55" stroke="#111">m-PE/PET(70/30)-ERE</text>
<line x1="31.5" y1="454.14" x2="243.5" y2="454.14" stroke="#333" stroke-width="1.3" stroke-dasharray="3.7 3.15"/>
<g clip-path="url(#clip2)">
<polyline points="30.4,525.9 36.29,524.9 42.18,524.7 48.07,524.5 53.96,524.3 59.84,523.6 65.73,522.9 71.62,521.71 77.51,520.41 83.4,519.11 89.29,517.51 95.18,515.41 101.07,513.12 106.96,510.42 112.84,507.12 118.73,503.43 124.62,500.93 130.51,496.94 136.4,491.44 142.29,485.95 148.18,478.66 154.07,470.97 159.96,462.28 165.84,452.49 171.73,441.5 177.62,430.91 183.51,419.73 189.4,410.44 195.29,402.85 201.18,396.06 207.07,391.36 212.96,388.17 218.84,385.67 224.73,384.27 230.62,383.77 236.51,383.17 242.4,383.17" fill="none" stroke="#9a9af0" stroke-width="0.8"/>
<polyline points="32,525.9 37.89,524.9 43.78,524.7 49.67,524.5 55.56,524.3 61.44,523.7 67.33,523.1 73.22,522 79.11,520.8 85,519.6 90.89,518.1 96.78,516.1 102.67,514 108.56,511.6 114.44,508.5 120.33,505.7 126.22,502.3 132.11,498.2 138,493.3 143.89,487.3 149.78,481.8 155.67,474.2 161.56,466 167.44,456.7 173.33,445.8 179.22,434.1 185.11,423.2 191,413.1 196.89,403.8 202.78,396.7 208.67,391.8 214.56,388 220.44,385.8 226.33,384.3 232.22,383.5 238.11,383.2 244,383.2" fill="none" stroke="#ff8a8a" stroke-width="0.8"/>
<circle cx="30.4" cy="525.9" r="2.25" fill="url(#gB)"/><circle cx="36.29" cy="524.9" r="2.25" fill="url(#gB)"/><circle cx="42.18" cy="524.7" r="2.25" fill="url(#gB)"/><circle cx="48.07" cy="524.5" r="2.25" fill="url(#gB)"/><circle cx="53.96" cy="524.3" r="2.25" fill="url(#gB)"/><circle cx="59.84" cy="523.6" r="2.25" fill="url(#gB)"/><circle cx="65.73" cy="522.9" r="2.25" fill="url(#gB)"/><circle cx="71.62" cy="521.71" r="2.25" fill="url(#gB)"/><circle cx="77.51" cy="520.41" r="2.25" fill="url(#gB)"/><circle cx="83.4" cy="519.11" r="2.25" fill="url(#gB)"/><circle cx="89.29" cy="517.51" r="2.25" fill="url(#gB)"/><circle cx="95.18" cy="515.41" r="2.25" fill="url(#gB)"/><circle cx="101.07" cy="513.12" r="2.25" fill="url(#gB)"/><circle cx="106.96" cy="510.42" r="2.25" fill="url(#gB)"/><circle cx="112.84" cy="507.12" r="2.25" fill="url(#gB)"/><circle cx="118.73" cy="503.43" r="2.25" fill="url(#gB)"/><circle cx="124.62" cy="500.93" r="2.25" fill="url(#gB)"/><circle cx="130.51" cy="496.94" r="2.25" fill="url(#gB)"/><circle cx="136.4" cy="491.44" r="2.25" fill="url(#gB)"/><circle cx="142.29" cy="485.95" r="2.25" fill="url(#gB)"/><circle cx="148.18" cy="478.66" r="2.25" fill="url(#gB)"/><circle cx="154.07" cy="470.97" r="2.25" fill="url(#gB)"/><circle cx="159.96" cy="462.28" r="2.25" fill="url(#gB)"/><circle cx="165.84" cy="452.49" r="2.25" fill="url(#gB)"/><circle cx="171.73" cy="441.5" r="2.25" fill="url(#gB)"/><circle cx="177.62" cy="430.91" r="2.25" fill="url(#gB)"/><circle cx="183.51" cy="419.73" r="2.25" fill="url(#gB)"/><circle cx="189.4" cy="410.44" r="2.25" fill="url(#gB)"/><circle cx="195.29" cy="402.85" r="2.25" fill="url(#gB)"/><circle cx="201.18" cy="396.06" r="2.25" fill="url(#gB)"/><circle cx="207.07" cy="391.36" r="2.25" fill="url(#gB)"/><circle cx="212.96" cy="388.17" r="2.25" fill="url(#gB)"/><circle cx="218.84" cy="385.67" r="2.25" fill="url(#gB)"/><circle cx="224.73" cy="384.27" r="2.25" fill="url(#gB)"/><circle cx="230.62" cy="383.77" r="2.25" fill="url(#gB)"/><circle cx="236.51" cy="383.17" r="2.25" fill="url(#gB)"/><circle cx="242.4" cy="383.17" r="2.25" fill="url(#gB)"/>
<circle cx="32" cy="525.9" r="2.25" fill="url(#gR)"/><circle cx="37.89" cy="524.9" r="2.25" fill="url(#gR)"/><circle cx="43.78" cy="524.7" r="2.25" fill="url(#gR)"/><circle cx="49.67" cy="524.5" r="2.25" fill="url(#gR)"/><circle cx="55.56" cy="524.3" r="2.25" fill="url(#gR)"/><circle cx="61.44" cy="523.7" r="2.25" fill="url(#gR)"/><circle cx="67.33" cy="523.1" r="2.25" fill="url(#gR)"/><circle cx="73.22" cy="522" r="2.25" fill="url(#gR)"/><circle cx="79.11" cy="520.8" r="2.25" fill="url(#gR)"/><circle cx="85" cy="519.6" r="2.25" fill="url(#gR)"/><circle cx="90.89" cy="518.1" r="2.25" fill="url(#gR)"/><circle cx="96.78" cy="516.1" r="2.25" fill="url(#gR)"/><circle cx="102.67" cy="514" r="2.25" fill="url(#gR)"/><circle cx="108.56" cy="511.6" r="2.25" fill="url(#gR)"/><circle cx="114.44" cy="508.5" r="2.25" fill="url(#gR)"/><circle cx="120.33" cy="505.7" r="2.25" fill="url(#gR)"/><circle cx="126.22" cy="502.3" r="2.25" fill="url(#gR)"/><circle cx="132.11" cy="498.2" r="2.25" fill="url(#gR)"/><circle cx="138" cy="493.3" r="2.25" fill="url(#gR)"/><circle cx="143.89" cy="487.3" r="2.25" fill="url(#gR)"/><circle cx="149.78" cy="481.8" r="2.25" fill="url(#gR)"/><circle cx="155.67" cy="474.2" r="2.25" fill="url(#gR)"/><circle cx="161.56" cy="466" r="2.25" fill="url(#gR)"/><circle cx="167.44" cy="456.7" r="2.25" fill="url(#gR)"/><circle cx="173.33" cy="445.8" r="2.25" fill="url(#gR)"/><circle cx="179.22" cy="434.1" r="2.25" fill="url(#gR)"/><circle cx="185.11" cy="423.2" r="2.25" fill="url(#gR)"/><circle cx="191" cy="413.1" r="2.25" fill="url(#gR)"/><circle cx="196.89" cy="403.8" r="2.25" fill="url(#gR)"/><circle cx="202.78" cy="396.7" r="2.25" fill="url(#gR)"/><circle cx="208.67" cy="391.8" r="2.25" fill="url(#gR)"/><circle cx="214.56" cy="388" r="2.25" fill="url(#gR)"/><circle cx="220.44" cy="385.8" r="2.25" fill="url(#gR)"/><circle cx="226.33" cy="384.3" r="2.25" fill="url(#gR)"/><circle cx="232.22" cy="383.5" r="2.25" fill="url(#gR)"/><circle cx="238.11" cy="383.2" r="2.25" fill="url(#gR)"/><circle cx="244" cy="383.2" r="2.25" fill="url(#gR)"/>
</g>
<rect x="31.5" y="368.5" width="212" height="157" fill="none" stroke="#585858" stroke-width="1.3"/>
<path d="M31.5 525.5v3M55.06 525.5v1.8M78.61 525.5v3M102.17 525.5v1.8M125.72 525.5v3M149.28 525.5v1.8M172.83 525.5v3M196.39 525.5v1.8M219.94 525.5v3M243.5 525.5v1.8M31.5 525.5h-3M31.5 511.23h-1.8M31.5 496.95h-3M31.5 482.68h-1.8M31.5 468.41h-3M31.5 454.14h-1.8M31.5 439.86h-3M31.5 425.59h-1.8M31.5 411.32h-3M31.5 397.05h-1.8M31.5 382.77h-3" stroke="#3a3a3a" stroke-width="1" fill="none"/>
<text x="31.5" y="536.8" font-size="7.6" text-anchor="middle" stroke="#111">0.0</text>
<text x="78.61" y="536.8" font-size="7.6" text-anchor="middle" stroke="#111">0.4</text>
<text x="125.72" y="536.8" font-size="7.6" text-anchor="middle" stroke="#111">0.8</text>
<text x="172.83" y="536.8" font-size="7.6" text-anchor="middle" stroke="#111">1.2</text>
<text x="219.94" y="536.8" font-size="7.6" text-anchor="middle" stroke="#111">1.6</text>
<text x="26.6" y="528.1" font-size="7.6" text-anchor="end" stroke="#111">0.0</text>
<text x="26.6" y="499.55" font-size="7.6" text-anchor="end" stroke="#111">0.2</text>
<text x="26.6" y="471.01" font-size="7.6" text-anchor="end" stroke="#111">0.4</text>
<text x="26.6" y="442.46" font-size="7.6" text-anchor="end" stroke="#111">0.6</text>
<text x="26.6" y="413.92" font-size="7.6" text-anchor="end" stroke="#111">0.8</text>
<text x="26.6" y="385.37" font-size="7.6" text-anchor="end" stroke="#111">1.0</text>
<text x="137.5" y="545.5" font-size="7.3" text-anchor="middle" stroke="#111">Time (min)</text>
<text transform="translate(13.9 448.5) rotate(-90)" font-size="8.3" text-anchor="middle" stroke="#111">Relative crystallinity</text>
<text x="40.1" y="384.4" font-size="13.4" stroke="#111">d</text>
<line x1="74.3" y1="375.7" x2="91.7" y2="375.7" stroke="#b4b4ea" stroke-width="1.4"/>
<circle cx="83.1" cy="375.7" r="2.25" fill="url(#gB)"/>
<text x="95.8" y="378.6" font-size="7.55" stroke="#111">m-PE/PET(80/20)-TSE</text>
<line x1="74.3" y1="386" x2="91.7" y2="386" stroke="#ffb0b0" stroke-width="1.4"/>
<circle cx="83.1" cy="386" r="2.25" fill="url(#gR)"/>
<text x="95.8" y="388.9" font-size="7.55" stroke="#111">m-PE/PET(80/20)-ESE</text>
<line x1="270.5" y1="454.14" x2="482.5" y2="454.14" stroke="#333" stroke-width="1.3" stroke-dasharray="3.7 3.15"/>
<g clip-path="url(#clip3)">
<polyline points="271.4,525.9 277.29,525.1 283.18,524.9 289.07,524.8 294.96,524.4 300.84,524.1 306.73,523 312.62,521.61 318.51,519.91 324.4,518.31 330.29,516.31 336.18,513.81 342.07,511.32 347.96,508.02 353.84,504.43 359.73,499.63 365.62,494.94 371.51,489.54 377.4,482.75 383.29,474.26 389.18,464.67 395.07,453.29 400.96,441 406.84,428.22 412.73,416.43 418.62,406.94 424.51,399.05 430.4,392.76 436.29,388.67 442.18,386.17 448.07,384.87 453.96,384.07 459.84,383.47 465.73,383.17 471.62,383.17 477.51,383.17 483.4,383.17" fill="none" stroke="#9a9af0" stroke-width="0.8"/>
<polyline points="270.5,525.9 276.39,525.1 282.28,524.9 288.17,524.9 294.06,524.5 299.94,524.3 305.83,523.3 311.72,522 317.61,520.41 323.5,519.01 329.39,517.11 335.28,514.81 341.17,512.62 347.06,509.52 352.94,506.42 358.83,502.33 364.72,497.73 370.61,492.84 376.5,486.85 382.39,479.96 388.28,471.77 394.17,463.38 400.06,454.59 405.94,445.1 411.83,434.21 417.72,424.12 423.61,414.34 429.5,406.14 435.39,399.05 441.28,393.86 447.17,389.76 453.06,387.07 458.94,385.17 464.83,384.07 470.72,383.47 476.61,383.17 482.5,383.17" fill="none" stroke="#ff8a8a" stroke-width="0.8"/>
<circle cx="271.4" cy="525.9" r="2.25" fill="url(#gB)"/><circle cx="277.29" cy="525.1" r="2.25" fill="url(#gB)"/><circle cx="283.18" cy="524.9" r="2.25" fill="url(#gB)"/><circle cx="289.07" cy="524.8" r="2.25" fill="url(#gB)"/><circle cx="294.96" cy="524.4" r="2.25" fill="url(#gB)"/><circle cx="300.84" cy="524.1" r="2.25" fill="url(#gB)"/><circle cx="306.73" cy="523" r="2.25" fill="url(#gB)"/><circle cx="312.62" cy="521.61" r="2.25" fill="url(#gB)"/><circle cx="318.51" cy="519.91" r="2.25" fill="url(#gB)"/><circle cx="324.4" cy="518.31" r="2.25" fill="url(#gB)"/><circle cx="330.29" cy="516.31" r="2.25" fill="url(#gB)"/><circle cx="336.18" cy="513.81" r="2.25" fill="url(#gB)"/><circle cx="342.07" cy="511.32" r="2.25" fill="url(#gB)"/><circle cx="347.96" cy="508.02" r="2.25" fill="url(#gB)"/><circle cx="353.84" cy="504.43" r="2.25" fill="url(#gB)"/><circle cx="359.73" cy="499.63" r="2.25" fill="url(#gB)"/><circle cx="365.62" cy="494.94" r="2.25" fill="url(#gB)"/><circle cx="371.51" cy="489.54" r="2.25" fill="url(#gB)"/><circle cx="377.4" cy="482.75" r="2.25" fill="url(#gB)"/><circle cx="383.29" cy="474.26" r="2.25" fill="url(#gB)"/><circle cx="389.18" cy="464.67" r="2.25" fill="url(#gB)"/><circle cx="395.07" cy="453.29" r="2.25" fill="url(#gB)"/><circle cx="400.96" cy="441" r="2.25" fill="url(#gB)"/><circle cx="406.84" cy="428.22" r="2.25" fill="url(#gB)"/><circle cx="412.73" cy="416.43" r="2.25" fill="url(#gB)"/><circle cx="418.62" cy="406.94" r="2.25" fill="url(#gB)"/><circle cx="424.51" cy="399.05" r="2.25" fill="url(#gB)"/><circle cx="430.4" cy="392.76" r="2.25" fill="url(#gB)"/><circle cx="436.29" cy="388.67" r="2.25" fill="url(#gB)"/><circle cx="442.18" cy="386.17" r="2.25" fill="url(#gB)"/><circle cx="448.07" cy="384.87" r="2.25" fill="url(#gB)"/><circle cx="453.96" cy="384.07" r="2.25" fill="url(#gB)"/><circle cx="459.84" cy="383.47" r="2.25" fill="url(#gB)"/><circle cx="465.73" cy="383.17" r="2.25" fill="url(#gB)"/><circle cx="471.62" cy="383.17" r="2.25" fill="url(#gB)"/><circle cx="477.51" cy="383.17" r="2.25" fill="url(#gB)"/><circle cx="483.4" cy="383.17" r="2.25" fill="url(#gB)"/>
<circle cx="270.5" cy="525.9" r="2.25" fill="url(#gR)"/><circle cx="276.39" cy="525.1" r="2.25" fill="url(#gR)"/><circle cx="282.28" cy="524.9" r="2.25" fill="url(#gR)"/><circle cx="288.17" cy="524.9" r="2.25" fill="url(#gR)"/><circle cx="294.06" cy="524.5" r="2.25" fill="url(#gR)"/><circle cx="299.94" cy="524.3" r="2.25" fill="url(#gR)"/><circle cx="305.83" cy="523.3" r="2.25" fill="url(#gR)"/><circle cx="311.72" cy="522" r="2.25" fill="url(#gR)"/><circle cx="317.61" cy="520.41" r="2.25" fill="url(#gR)"/><circle cx="323.5" cy="519.01" r="2.25" fill="url(#gR)"/><circle cx="329.39" cy="517.11" r="2.25" fill="url(#gR)"/><circle cx="335.28" cy="514.81" r="2.25" fill="url(#gR)"/><circle cx="341.17" cy="512.62" r="2.25" fill="url(#gR)"/><circle cx="347.06" cy="509.52" r="2.25" fill="url(#gR)"/><circle cx="352.94" cy="506.42" r="2.25" fill="url(#gR)"/><circle cx="358.83" cy="502.33" r="2.25" fill="url(#gR)"/><circle cx="364.72" cy="497.73" r="2.25" fill="url(#gR)"/><circle cx="370.61" cy="492.84" r="2.25" fill="url(#gR)"/><circle cx="376.5" cy="486.85" r="2.25" fill="url(#gR)"/><circle cx="382.39" cy="479.96" r="2.25" fill="url(#gR)"/><circle cx="388.28" cy="471.77" r="2.25" fill="url(#gR)"/><circle cx="394.17" cy="463.38" r="2.25" fill="url(#gR)"/><circle cx="400.06" cy="454.59" r="2.25" fill="url(#gR)"/><circle cx="405.94" cy="445.1" r="2.25" fill="url(#gR)"/><circle cx="411.83" cy="434.21" r="2.25" fill="url(#gR)"/><circle cx="417.72" cy="424.12" r="2.25" fill="url(#gR)"/><circle cx="423.61" cy="414.34" r="2.25" fill="url(#gR)"/><circle cx="429.5" cy="406.14" r="2.25" fill="url(#gR)"/><circle cx="435.39" cy="399.05" r="2.25" fill="url(#gR)"/><circle cx="441.28" cy="393.86" r="2.25" fill="url(#gR)"/><circle cx="447.17" cy="389.76" r="2.25" fill="url(#gR)"/><circle cx="453.06" cy="387.07" r="2.25" fill="url(#gR)"/><circle cx="458.94" cy="385.17" r="2.25" fill="url(#gR)"/><circle cx="464.83" cy="384.07" r="2.25" fill="url(#gR)"/><circle cx="470.72" cy="383.47" r="2.25" fill="url(#gR)"/><circle cx="476.61" cy="383.17" r="2.25" fill="url(#gR)"/><circle cx="482.5" cy="383.17" r="2.25" fill="url(#gR)"/>
</g>
<rect x="270.5" y="368.5" width="212" height="157" fill="none" stroke="#585858" stroke-width="1.3"/>
<path d="M270.5 525.5v3M294.06 525.5v1.8M317.61 525.5v3M341.17 525.5v1.8M364.72 525.5v3M388.28 525.5v1.8M411.83 525.5v3M435.39 525.5v1.8M458.94 525.5v3M482.5 525.5v1.8M270.5 525.5h-3M270.5 511.23h-1.8M270.5 496.95h-3M270.5 482.68h-1.8M270.5 468.41h-3M270.5 454.14h-1.8M270.5 439.86h-3M270.5 425.59h-1.8M270.5 411.32h-3M270.5 397.05h-1.8M270.5 382.77h-3" stroke="#3a3a3a" stroke-width="1" fill="none"/>
<text x="270.5" y="536.8" font-size="7.6" text-anchor="middle" stroke="#111">0.0</text>
<text x="317.61" y="536.8" font-size="7.6" text-anchor="middle" stroke="#111">0.4</text>
<text x="364.72" y="536.8" font-size="7.6" text-anchor="middle" stroke="#111">0.8</text>
<text x="411.83" y="536.8" font-size="7.6" text-anchor="middle" stroke="#111">1.2</text>
<text x="458.94" y="536.8" font-size="7.6" text-anchor="middle" stroke="#111">1.6</text>
<text x="265.6" y="528.1" font-size="7.6" text-anchor="end" stroke="#111">0.0</text>
<text x="265.6" y="499.55" font-size="7.6" text-anchor="end" stroke="#111">0.2</text>
<text x="265.6" y="471.01" font-size="7.6" text-anchor="end" stroke="#111">0.4</text>
<text x="265.6" y="442.46" font-size="7.6" text-anchor="end" stroke="#111">0.6</text>
<text x="265.6" y="413.92" font-size="7.6" text-anchor="end" stroke="#111">0.8</text>
<text x="265.6" y="385.37" font-size="7.6" text-anchor="end" stroke="#111">1.0</text>
<text x="376.5" y="545.5" font-size="7.3" text-anchor="middle" stroke="#111">Time (min)</text>
<text transform="translate(252.9 448.5) rotate(-90)" font-size="8.3" text-anchor="middle" stroke="#111">Relative crystallinity</text>
<text x="279.1" y="384.4" font-size="13.4" stroke="#111">e</text>
<line x1="310.3" y1="375.6" x2="327.7" y2="375.6" stroke="#6464cc" stroke-width="1.0"/>
<circle cx="319" cy="375.6" r="2.25" fill="url(#gB)"/>
<text x="332.2" y="378.5" font-size="7.55" stroke="#111">m-PE/PET(90/10)-TSE</text>
<line x1="310.3" y1="385.5" x2="327.7" y2="385.5" stroke="#ff8c8c" stroke-width="1.0"/>
<circle cx="319" cy="385.5" r="2.25" fill="url(#gR)"/>
<text x="332.2" y="388.4" font-size="7.55" stroke="#111">m-PE/PET(90/10)-ESE</text>
<line x1="5" y1="188.5" x2="31.5" y2="188.5" stroke="#999" stroke-width="1"/>
</svg>
</body></html>
